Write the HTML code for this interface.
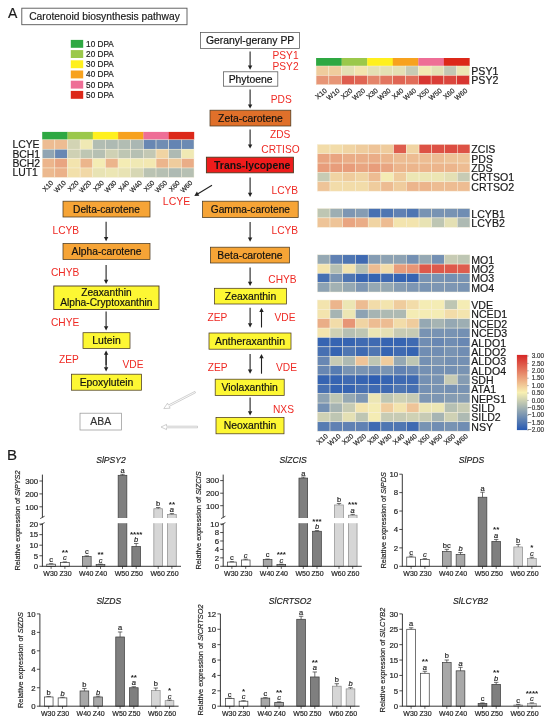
<!DOCTYPE html>
<html lang="en"><head><meta charset="utf-8"><title>Carotenoid biosynthesis pathway</title>
<style>html,body{margin:0;padding:0;background:#fff;}body{width:550px;height:721px;overflow:hidden;}svg{display:block;font-family:'Liberation Sans', Arial, sans-serif;filter:blur(0.32px);}</style>
</head><body>
<svg width="550" height="721" viewBox="0 0 550 721">
<rect width="550" height="721" fill="#ffffff"/>
<text x="8" y="17.6" font-size="14" fill="#1a1a1a" stroke="#1a1a1a" stroke-width="0.18">A</text>
<rect x="21.80" y="8.20" width="165.20" height="16.50" fill="#fff" stroke="#555" stroke-width="0.9"/>
<text x="29.2" y="19.6" font-size="10.27" fill="#1a1a1a" stroke="#1a1a1a" stroke-width="0.18">Carotenoid biosynthesis pathway</text>
<rect x="70.80" y="39.90" width="12.40" height="7.90" fill="#2ea842"/>
<text x="86.1" y="46.7" font-size="8.2" fill="#1a1a1a" stroke="#1a1a1a" stroke-width="0.18">10 DPA</text>
<rect x="70.80" y="50.10" width="12.40" height="7.90" fill="#9bc84b"/>
<text x="86.1" y="56.9" font-size="8.2" fill="#1a1a1a" stroke="#1a1a1a" stroke-width="0.18">20 DPA</text>
<rect x="70.80" y="60.30" width="12.40" height="7.90" fill="#fff01e"/>
<text x="86.1" y="67.1" font-size="8.2" fill="#1a1a1a" stroke="#1a1a1a" stroke-width="0.18">30 DPA</text>
<rect x="70.80" y="70.50" width="12.40" height="7.90" fill="#f7a21e"/>
<text x="86.1" y="77.3" font-size="8.2" fill="#1a1a1a" stroke="#1a1a1a" stroke-width="0.18">40 DPA</text>
<rect x="70.80" y="80.70" width="12.40" height="7.90" fill="#ee6e96"/>
<text x="86.1" y="87.5" font-size="8.2" fill="#1a1a1a" stroke="#1a1a1a" stroke-width="0.18">50 DPA</text>
<rect x="70.80" y="90.90" width="12.40" height="7.90" fill="#dc2819"/>
<text x="86.1" y="97.7" font-size="8.2" fill="#1a1a1a" stroke="#1a1a1a" stroke-width="0.18">50 DPA</text>
<rect x="42.20" y="131.90" width="25.50" height="7.90" fill="#2ea842"/>
<rect x="67.50" y="131.90" width="25.50" height="7.90" fill="#9bc84b"/>
<rect x="92.80" y="131.90" width="25.50" height="7.90" fill="#fff01e"/>
<rect x="118.10" y="131.90" width="25.50" height="7.90" fill="#f7a21e"/>
<rect x="143.40" y="131.90" width="25.50" height="7.90" fill="#ee6e96"/>
<rect x="168.70" y="131.90" width="25.50" height="7.90" fill="#dc2819"/>
<rect x="42.20" y="139.80" width="12.65" height="9.40" fill="#edbc92" stroke="#f6f0dc" stroke-width="0.45"/>
<rect x="54.85" y="139.80" width="12.65" height="9.40" fill="#edbc92" stroke="#f6f0dc" stroke-width="0.45"/>
<rect x="67.50" y="139.80" width="12.65" height="9.40" fill="#d3d4b4" stroke="#f6f0dc" stroke-width="0.45"/>
<rect x="80.15" y="139.80" width="12.65" height="9.40" fill="#f0e9b4" stroke="#f6f0dc" stroke-width="0.45"/>
<rect x="92.80" y="139.80" width="12.65" height="9.40" fill="#b2bdb3" stroke="#f6f0dc" stroke-width="0.45"/>
<rect x="105.45" y="139.80" width="12.65" height="9.40" fill="#aebab3" stroke="#f6f0dc" stroke-width="0.45"/>
<rect x="118.10" y="139.80" width="12.65" height="9.40" fill="#b2bdb3" stroke="#f6f0dc" stroke-width="0.45"/>
<rect x="130.75" y="139.80" width="12.65" height="9.40" fill="#aab7b3" stroke="#f6f0dc" stroke-width="0.45"/>
<rect x="143.40" y="139.80" width="12.65" height="9.40" fill="#6887b3" stroke="#f6f0dc" stroke-width="0.45"/>
<rect x="156.05" y="139.80" width="12.65" height="9.40" fill="#708db3" stroke="#f6f0dc" stroke-width="0.45"/>
<rect x="168.70" y="139.80" width="12.65" height="9.40" fill="#6484b3" stroke="#f6f0dc" stroke-width="0.45"/>
<rect x="181.35" y="139.80" width="12.65" height="9.40" fill="#6c8ab3" stroke="#f6f0dc" stroke-width="0.45"/>
<text x="12.4" y="148.24" font-size="10.4" fill="#1a1a1a" stroke="#1a1a1a" stroke-width="0.18">LCYE</text>
<rect x="42.20" y="149.20" width="12.65" height="9.40" fill="#91a5b3" stroke="#f6f0dc" stroke-width="0.45"/>
<rect x="54.85" y="149.20" width="12.65" height="9.40" fill="#6887b3" stroke="#f6f0dc" stroke-width="0.45"/>
<rect x="67.50" y="149.20" width="12.65" height="9.40" fill="#cfd1b4" stroke="#f6f0dc" stroke-width="0.45"/>
<rect x="80.15" y="149.20" width="12.65" height="9.40" fill="#bec6b3" stroke="#f6f0dc" stroke-width="0.45"/>
<rect x="92.80" y="149.20" width="12.65" height="9.40" fill="#b6c0b3" stroke="#f6f0dc" stroke-width="0.45"/>
<rect x="105.45" y="149.20" width="12.65" height="9.40" fill="#cfd1b4" stroke="#f6f0dc" stroke-width="0.45"/>
<rect x="118.10" y="149.20" width="12.65" height="9.40" fill="#bec6b3" stroke="#f6f0dc" stroke-width="0.45"/>
<rect x="130.75" y="149.20" width="12.65" height="9.40" fill="#b6c0b3" stroke="#f6f0dc" stroke-width="0.45"/>
<rect x="143.40" y="149.20" width="12.65" height="9.40" fill="#c3c8b4" stroke="#f6f0dc" stroke-width="0.45"/>
<rect x="156.05" y="149.20" width="12.65" height="9.40" fill="#f0d4a3" stroke="#f6f0dc" stroke-width="0.45"/>
<rect x="168.70" y="149.20" width="12.65" height="9.40" fill="#aebab3" stroke="#f6f0dc" stroke-width="0.45"/>
<rect x="181.35" y="149.20" width="12.65" height="9.40" fill="#f0e9b4" stroke="#f6f0dc" stroke-width="0.45"/>
<text x="12.4" y="157.64" font-size="10.4" fill="#1a1a1a" stroke="#1a1a1a" stroke-width="0.18">BCH1</text>
<rect x="42.20" y="158.60" width="12.65" height="9.40" fill="#ecb58c" stroke="#f6f0dc" stroke-width="0.45"/>
<rect x="54.85" y="158.60" width="12.65" height="9.40" fill="#e9a581" stroke="#f6f0dc" stroke-width="0.45"/>
<rect x="67.50" y="158.60" width="12.65" height="9.40" fill="#f3e4ae" stroke="#f6f0dc" stroke-width="0.45"/>
<rect x="80.15" y="158.60" width="12.65" height="9.40" fill="#ecb58c" stroke="#f6f0dc" stroke-width="0.45"/>
<rect x="92.80" y="158.60" width="12.65" height="9.40" fill="#f4ecb4" stroke="#f6f0dc" stroke-width="0.45"/>
<rect x="105.45" y="158.60" width="12.65" height="9.40" fill="#ecb58c" stroke="#f6f0dc" stroke-width="0.45"/>
<rect x="118.10" y="158.60" width="12.65" height="9.40" fill="#f4ecb4" stroke="#f6f0dc" stroke-width="0.45"/>
<rect x="130.75" y="158.60" width="12.65" height="9.40" fill="#f0e9b4" stroke="#f6f0dc" stroke-width="0.45"/>
<rect x="143.40" y="158.60" width="12.65" height="9.40" fill="#f3e8b1" stroke="#f6f0dc" stroke-width="0.45"/>
<rect x="156.05" y="158.60" width="12.65" height="9.40" fill="#ecb58c" stroke="#f6f0dc" stroke-width="0.45"/>
<rect x="168.70" y="158.60" width="12.65" height="9.40" fill="#efcc9d" stroke="#f6f0dc" stroke-width="0.45"/>
<rect x="181.35" y="158.60" width="12.65" height="9.40" fill="#eaad87" stroke="#f6f0dc" stroke-width="0.45"/>
<text x="12.4" y="167.04" font-size="10.4" fill="#1a1a1a" stroke="#1a1a1a" stroke-width="0.18">BCH2</text>
<rect x="42.20" y="168.00" width="12.65" height="9.40" fill="#ecb98f" stroke="#f6f0dc" stroke-width="0.45"/>
<rect x="54.85" y="168.00" width="12.65" height="9.40" fill="#ebb189" stroke="#f6f0dc" stroke-width="0.45"/>
<rect x="67.50" y="168.00" width="12.65" height="9.40" fill="#f2e0ab" stroke="#f6f0dc" stroke-width="0.45"/>
<rect x="80.15" y="168.00" width="12.65" height="9.40" fill="#f1d8a6" stroke="#f6f0dc" stroke-width="0.45"/>
<rect x="92.80" y="168.00" width="12.65" height="9.40" fill="#e8e3b4" stroke="#f6f0dc" stroke-width="0.45"/>
<rect x="105.45" y="168.00" width="12.65" height="9.40" fill="#ece6b4" stroke="#f6f0dc" stroke-width="0.45"/>
<rect x="118.10" y="168.00" width="12.65" height="9.40" fill="#e8e3b4" stroke="#f6f0dc" stroke-width="0.45"/>
<rect x="130.75" y="168.00" width="12.65" height="9.40" fill="#d7d7b4" stroke="#f6f0dc" stroke-width="0.45"/>
<rect x="143.40" y="168.00" width="12.65" height="9.40" fill="#bac3b3" stroke="#f6f0dc" stroke-width="0.45"/>
<rect x="156.05" y="168.00" width="12.65" height="9.40" fill="#b6c0b3" stroke="#f6f0dc" stroke-width="0.45"/>
<rect x="168.70" y="168.00" width="12.65" height="9.40" fill="#aebab3" stroke="#f6f0dc" stroke-width="0.45"/>
<rect x="181.35" y="168.00" width="12.65" height="9.40" fill="#b6c0b3" stroke="#f6f0dc" stroke-width="0.45"/>
<text x="12.4" y="176.44" font-size="10.4" fill="#1a1a1a" stroke="#1a1a1a" stroke-width="0.18">LUT1</text>
<text x="53.73" y="183.2" font-size="6.8" fill="#2a2a2a" text-anchor="end" transform="rotate(-46 53.73 183.2)" stroke="#2a2a2a" stroke-width="0.18">X10</text>
<text x="66.38" y="183.2" font-size="6.8" fill="#2a2a2a" text-anchor="end" transform="rotate(-46 66.38 183.2)" stroke="#2a2a2a" stroke-width="0.18">W10</text>
<text x="79.03" y="183.2" font-size="6.8" fill="#2a2a2a" text-anchor="end" transform="rotate(-46 79.03 183.2)" stroke="#2a2a2a" stroke-width="0.18">X20</text>
<text x="91.67" y="183.2" font-size="6.8" fill="#2a2a2a" text-anchor="end" transform="rotate(-46 91.67 183.2)" stroke="#2a2a2a" stroke-width="0.18">W20</text>
<text x="104.33" y="183.2" font-size="6.8" fill="#2a2a2a" text-anchor="end" transform="rotate(-46 104.33 183.2)" stroke="#2a2a2a" stroke-width="0.18">X30</text>
<text x="116.98" y="183.2" font-size="6.8" fill="#2a2a2a" text-anchor="end" transform="rotate(-46 116.98 183.2)" stroke="#2a2a2a" stroke-width="0.18">W30</text>
<text x="129.62" y="183.2" font-size="6.8" fill="#2a2a2a" text-anchor="end" transform="rotate(-46 129.62 183.2)" stroke="#2a2a2a" stroke-width="0.18">X40</text>
<text x="142.27" y="183.2" font-size="6.8" fill="#2a2a2a" text-anchor="end" transform="rotate(-46 142.27 183.2)" stroke="#2a2a2a" stroke-width="0.18">W40</text>
<text x="154.93" y="183.2" font-size="6.8" fill="#2a2a2a" text-anchor="end" transform="rotate(-46 154.93 183.2)" stroke="#2a2a2a" stroke-width="0.18">X50</text>
<text x="167.57" y="183.2" font-size="6.8" fill="#2a2a2a" text-anchor="end" transform="rotate(-46 167.57 183.2)" stroke="#2a2a2a" stroke-width="0.18">W50</text>
<text x="180.23" y="183.2" font-size="6.8" fill="#2a2a2a" text-anchor="end" transform="rotate(-46 180.23 183.2)" stroke="#2a2a2a" stroke-width="0.18">X60</text>
<text x="192.88" y="183.2" font-size="6.8" fill="#2a2a2a" text-anchor="end" transform="rotate(-46 192.88 183.2)" stroke="#2a2a2a" stroke-width="0.18">W60</text>
<rect x="316.10" y="58.00" width="25.76" height="8.00" fill="#2ea842"/>
<rect x="341.66" y="58.00" width="25.76" height="8.00" fill="#9bc84b"/>
<rect x="367.22" y="58.00" width="25.76" height="8.00" fill="#fff01e"/>
<rect x="392.78" y="58.00" width="25.76" height="8.00" fill="#f7a21e"/>
<rect x="418.34" y="58.00" width="25.76" height="8.00" fill="#ee6e96"/>
<rect x="443.90" y="58.00" width="25.76" height="8.00" fill="#dc2819"/>
<rect x="316.10" y="66.00" width="12.78" height="9.35" fill="#efcc9d" stroke="#f6f0dc" stroke-width="0.45"/>
<rect x="328.88" y="66.00" width="12.78" height="9.35" fill="#efcc9d" stroke="#f6f0dc" stroke-width="0.45"/>
<rect x="341.66" y="66.00" width="12.78" height="9.35" fill="#e4e0b4" stroke="#f6f0dc" stroke-width="0.45"/>
<rect x="354.44" y="66.00" width="12.78" height="9.35" fill="#f3e4ae" stroke="#f6f0dc" stroke-width="0.45"/>
<rect x="367.22" y="66.00" width="12.78" height="9.35" fill="#e4e0b4" stroke="#f6f0dc" stroke-width="0.45"/>
<rect x="380.00" y="66.00" width="12.78" height="9.35" fill="#e4e0b4" stroke="#f6f0dc" stroke-width="0.45"/>
<rect x="392.78" y="66.00" width="12.78" height="9.35" fill="#e4e0b4" stroke="#f6f0dc" stroke-width="0.45"/>
<rect x="405.56" y="66.00" width="12.78" height="9.35" fill="#c7cbb4" stroke="#f6f0dc" stroke-width="0.45"/>
<rect x="418.34" y="66.00" width="12.78" height="9.35" fill="#f3e8b1" stroke="#f6f0dc" stroke-width="0.45"/>
<rect x="431.12" y="66.00" width="12.78" height="9.35" fill="#e4e0b4" stroke="#f6f0dc" stroke-width="0.45"/>
<rect x="443.90" y="66.00" width="12.78" height="9.35" fill="#c3c8b4" stroke="#f6f0dc" stroke-width="0.45"/>
<rect x="456.68" y="66.00" width="12.78" height="9.35" fill="#ece6b4" stroke="#f6f0dc" stroke-width="0.45"/>
<text x="471.3" y="75.02" font-size="10.6" fill="#1a1a1a" stroke="#1a1a1a" stroke-width="0.18">PSY1</text>
<rect x="316.10" y="75.35" width="12.78" height="9.35" fill="#e79576" stroke="#f6f0dc" stroke-width="0.45"/>
<rect x="328.88" y="75.35" width="12.78" height="9.35" fill="#e79576" stroke="#f6f0dc" stroke-width="0.45"/>
<rect x="341.66" y="75.35" width="12.78" height="9.35" fill="#de5d4e" stroke="#f6f0dc" stroke-width="0.45"/>
<rect x="354.44" y="75.35" width="12.78" height="9.35" fill="#e06553" stroke="#f6f0dc" stroke-width="0.45"/>
<rect x="367.22" y="75.35" width="12.78" height="9.35" fill="#e4856a" stroke="#f6f0dc" stroke-width="0.45"/>
<rect x="380.00" y="75.35" width="12.78" height="9.35" fill="#e2755f" stroke="#f6f0dc" stroke-width="0.45"/>
<rect x="392.78" y="75.35" width="12.78" height="9.35" fill="#e06553" stroke="#f6f0dc" stroke-width="0.45"/>
<rect x="405.56" y="75.35" width="12.78" height="9.35" fill="#e16d59" stroke="#f6f0dc" stroke-width="0.45"/>
<rect x="418.34" y="75.35" width="12.78" height="9.35" fill="#d83631" stroke="#f6f0dc" stroke-width="0.45"/>
<rect x="431.12" y="75.35" width="12.78" height="9.35" fill="#da3e37" stroke="#f6f0dc" stroke-width="0.45"/>
<rect x="443.90" y="75.35" width="12.78" height="9.35" fill="#db463d" stroke="#f6f0dc" stroke-width="0.45"/>
<rect x="456.68" y="75.35" width="12.78" height="9.35" fill="#d83631" stroke="#f6f0dc" stroke-width="0.45"/>
<text x="471.3" y="84.37" font-size="10.6" fill="#1a1a1a" stroke="#1a1a1a" stroke-width="0.18">PSY2</text>
<text x="327.39" y="91.5" font-size="7.0" fill="#2a2a2a" text-anchor="end" transform="rotate(-40 327.39 91.5)" stroke="#2a2a2a" stroke-width="0.18">X10</text>
<text x="340.17" y="91.5" font-size="7.0" fill="#2a2a2a" text-anchor="end" transform="rotate(-40 340.17 91.5)" stroke="#2a2a2a" stroke-width="0.18">W10</text>
<text x="352.95" y="91.5" font-size="7.0" fill="#2a2a2a" text-anchor="end" transform="rotate(-40 352.95 91.5)" stroke="#2a2a2a" stroke-width="0.18">X20</text>
<text x="365.73" y="91.5" font-size="7.0" fill="#2a2a2a" text-anchor="end" transform="rotate(-40 365.73 91.5)" stroke="#2a2a2a" stroke-width="0.18">W20</text>
<text x="378.51" y="91.5" font-size="7.0" fill="#2a2a2a" text-anchor="end" transform="rotate(-40 378.51 91.5)" stroke="#2a2a2a" stroke-width="0.18">X30</text>
<text x="391.29" y="91.5" font-size="7.0" fill="#2a2a2a" text-anchor="end" transform="rotate(-40 391.29 91.5)" stroke="#2a2a2a" stroke-width="0.18">W30</text>
<text x="404.07" y="91.5" font-size="7.0" fill="#2a2a2a" text-anchor="end" transform="rotate(-40 404.07 91.5)" stroke="#2a2a2a" stroke-width="0.18">X40</text>
<text x="416.85" y="91.5" font-size="7.0" fill="#2a2a2a" text-anchor="end" transform="rotate(-40 416.85 91.5)" stroke="#2a2a2a" stroke-width="0.18">W40</text>
<text x="429.63" y="91.5" font-size="7.0" fill="#2a2a2a" text-anchor="end" transform="rotate(-40 429.63 91.5)" stroke="#2a2a2a" stroke-width="0.18">X50</text>
<text x="442.41" y="91.5" font-size="7.0" fill="#2a2a2a" text-anchor="end" transform="rotate(-40 442.41 91.5)" stroke="#2a2a2a" stroke-width="0.18">W50</text>
<text x="455.19" y="91.5" font-size="7.0" fill="#2a2a2a" text-anchor="end" transform="rotate(-40 455.19 91.5)" stroke="#2a2a2a" stroke-width="0.18">X60</text>
<text x="467.97" y="91.5" font-size="7.0" fill="#2a2a2a" text-anchor="end" transform="rotate(-40 467.97 91.5)" stroke="#2a2a2a" stroke-width="0.18">W60</text>
<rect x="317.30" y="144.40" width="12.72" height="9.35" fill="#f2dca9" stroke="#f6f0dc" stroke-width="0.45"/>
<rect x="330.02" y="144.40" width="12.72" height="9.35" fill="#f2dca9" stroke="#f6f0dc" stroke-width="0.45"/>
<rect x="342.74" y="144.40" width="12.72" height="9.35" fill="#f0d4a3" stroke="#f6f0dc" stroke-width="0.45"/>
<rect x="355.46" y="144.40" width="12.72" height="9.35" fill="#efcc9d" stroke="#f6f0dc" stroke-width="0.45"/>
<rect x="368.18" y="144.40" width="12.72" height="9.35" fill="#eec498" stroke="#f6f0dc" stroke-width="0.45"/>
<rect x="380.90" y="144.40" width="12.72" height="9.35" fill="#efcc9d" stroke="#f6f0dc" stroke-width="0.45"/>
<rect x="393.62" y="144.40" width="12.72" height="9.35" fill="#de5d4e" stroke="#f6f0dc" stroke-width="0.45"/>
<rect x="406.34" y="144.40" width="12.72" height="9.35" fill="#f0d4a3" stroke="#f6f0dc" stroke-width="0.45"/>
<rect x="419.06" y="144.40" width="12.72" height="9.35" fill="#dd5245" stroke="#f6f0dc" stroke-width="0.45"/>
<rect x="431.78" y="144.40" width="12.72" height="9.35" fill="#dd5245" stroke="#f6f0dc" stroke-width="0.45"/>
<rect x="444.50" y="144.40" width="12.72" height="9.35" fill="#dc4e42" stroke="#f6f0dc" stroke-width="0.45"/>
<rect x="457.22" y="144.40" width="12.72" height="9.35" fill="#dd5245" stroke="#f6f0dc" stroke-width="0.45"/>
<text x="471.3" y="153.42" font-size="10.6" fill="#1a1a1a" stroke="#1a1a1a" stroke-width="0.18">ZCIS</text>
<rect x="317.30" y="153.75" width="12.72" height="9.35" fill="#e9a581" stroke="#f6f0dc" stroke-width="0.45"/>
<rect x="330.02" y="153.75" width="12.72" height="9.35" fill="#e9a581" stroke="#f6f0dc" stroke-width="0.45"/>
<rect x="342.74" y="153.75" width="12.72" height="9.35" fill="#eaad87" stroke="#f6f0dc" stroke-width="0.45"/>
<rect x="355.46" y="153.75" width="12.72" height="9.35" fill="#eaad87" stroke="#f6f0dc" stroke-width="0.45"/>
<rect x="368.18" y="153.75" width="12.72" height="9.35" fill="#eaad87" stroke="#f6f0dc" stroke-width="0.45"/>
<rect x="380.90" y="153.75" width="12.72" height="9.35" fill="#ecb58c" stroke="#f6f0dc" stroke-width="0.45"/>
<rect x="393.62" y="153.75" width="12.72" height="9.35" fill="#edbc92" stroke="#f6f0dc" stroke-width="0.45"/>
<rect x="406.34" y="153.75" width="12.72" height="9.35" fill="#edbc92" stroke="#f6f0dc" stroke-width="0.45"/>
<rect x="419.06" y="153.75" width="12.72" height="9.35" fill="#edbc92" stroke="#f6f0dc" stroke-width="0.45"/>
<rect x="431.78" y="153.75" width="12.72" height="9.35" fill="#edbc92" stroke="#f6f0dc" stroke-width="0.45"/>
<rect x="444.50" y="153.75" width="12.72" height="9.35" fill="#eec498" stroke="#f6f0dc" stroke-width="0.45"/>
<rect x="457.22" y="153.75" width="12.72" height="9.35" fill="#eec498" stroke="#f6f0dc" stroke-width="0.45"/>
<text x="471.3" y="162.77" font-size="10.6" fill="#1a1a1a" stroke="#1a1a1a" stroke-width="0.18">PDS</text>
<rect x="317.30" y="163.10" width="12.72" height="9.35" fill="#e89d7b" stroke="#f6f0dc" stroke-width="0.45"/>
<rect x="330.02" y="163.10" width="12.72" height="9.35" fill="#e89d7b" stroke="#f6f0dc" stroke-width="0.45"/>
<rect x="342.74" y="163.10" width="12.72" height="9.35" fill="#e89d7b" stroke="#f6f0dc" stroke-width="0.45"/>
<rect x="355.46" y="163.10" width="12.72" height="9.35" fill="#e9a581" stroke="#f6f0dc" stroke-width="0.45"/>
<rect x="368.18" y="163.10" width="12.72" height="9.35" fill="#e89d7b" stroke="#f6f0dc" stroke-width="0.45"/>
<rect x="380.90" y="163.10" width="12.72" height="9.35" fill="#e9a581" stroke="#f6f0dc" stroke-width="0.45"/>
<rect x="393.62" y="163.10" width="12.72" height="9.35" fill="#ecb58c" stroke="#f6f0dc" stroke-width="0.45"/>
<rect x="406.34" y="163.10" width="12.72" height="9.35" fill="#ecb58c" stroke="#f6f0dc" stroke-width="0.45"/>
<rect x="419.06" y="163.10" width="12.72" height="9.35" fill="#ecb58c" stroke="#f6f0dc" stroke-width="0.45"/>
<rect x="431.78" y="163.10" width="12.72" height="9.35" fill="#ecb58c" stroke="#f6f0dc" stroke-width="0.45"/>
<rect x="444.50" y="163.10" width="12.72" height="9.35" fill="#ecb58c" stroke="#f6f0dc" stroke-width="0.45"/>
<rect x="457.22" y="163.10" width="12.72" height="9.35" fill="#edbc92" stroke="#f6f0dc" stroke-width="0.45"/>
<text x="471.3" y="172.12" font-size="10.6" fill="#1a1a1a" stroke="#1a1a1a" stroke-width="0.18">ZDS</text>
<rect x="317.30" y="172.45" width="12.72" height="9.35" fill="#c7cbb4" stroke="#f6f0dc" stroke-width="0.45"/>
<rect x="330.02" y="172.45" width="12.72" height="9.35" fill="#f0d4a3" stroke="#f6f0dc" stroke-width="0.45"/>
<rect x="342.74" y="172.45" width="12.72" height="9.35" fill="#efcc9d" stroke="#f6f0dc" stroke-width="0.45"/>
<rect x="355.46" y="172.45" width="12.72" height="9.35" fill="#f0d4a3" stroke="#f6f0dc" stroke-width="0.45"/>
<rect x="368.18" y="172.45" width="12.72" height="9.35" fill="#edbc92" stroke="#f6f0dc" stroke-width="0.45"/>
<rect x="380.90" y="172.45" width="12.72" height="9.35" fill="#f4ecb4" stroke="#f6f0dc" stroke-width="0.45"/>
<rect x="393.62" y="172.45" width="12.72" height="9.35" fill="#efcc9d" stroke="#f6f0dc" stroke-width="0.45"/>
<rect x="406.34" y="172.45" width="12.72" height="9.35" fill="#ece6b4" stroke="#f6f0dc" stroke-width="0.45"/>
<rect x="419.06" y="172.45" width="12.72" height="9.35" fill="#ece6b4" stroke="#f6f0dc" stroke-width="0.45"/>
<rect x="431.78" y="172.45" width="12.72" height="9.35" fill="#ece6b4" stroke="#f6f0dc" stroke-width="0.45"/>
<rect x="444.50" y="172.45" width="12.72" height="9.35" fill="#e4e0b4" stroke="#f6f0dc" stroke-width="0.45"/>
<rect x="457.22" y="172.45" width="12.72" height="9.35" fill="#c7cbb4" stroke="#f6f0dc" stroke-width="0.45"/>
<text x="471.3" y="181.47" font-size="10.6" fill="#1a1a1a" stroke="#1a1a1a" stroke-width="0.18">CRTSO1</text>
<rect x="317.30" y="181.80" width="12.72" height="9.35" fill="#eec498" stroke="#f6f0dc" stroke-width="0.45"/>
<rect x="330.02" y="181.80" width="12.72" height="9.35" fill="#f2dca9" stroke="#f6f0dc" stroke-width="0.45"/>
<rect x="342.74" y="181.80" width="12.72" height="9.35" fill="#f2dca9" stroke="#f6f0dc" stroke-width="0.45"/>
<rect x="355.46" y="181.80" width="12.72" height="9.35" fill="#f2dca9" stroke="#f6f0dc" stroke-width="0.45"/>
<rect x="368.18" y="181.80" width="12.72" height="9.35" fill="#efcc9d" stroke="#f6f0dc" stroke-width="0.45"/>
<rect x="380.90" y="181.80" width="12.72" height="9.35" fill="#edbc92" stroke="#f6f0dc" stroke-width="0.45"/>
<rect x="393.62" y="181.80" width="12.72" height="9.35" fill="#efcc9d" stroke="#f6f0dc" stroke-width="0.45"/>
<rect x="406.34" y="181.80" width="12.72" height="9.35" fill="#ecb58c" stroke="#f6f0dc" stroke-width="0.45"/>
<rect x="419.06" y="181.80" width="12.72" height="9.35" fill="#ecb58c" stroke="#f6f0dc" stroke-width="0.45"/>
<rect x="431.78" y="181.80" width="12.72" height="9.35" fill="#edbc92" stroke="#f6f0dc" stroke-width="0.45"/>
<rect x="444.50" y="181.80" width="12.72" height="9.35" fill="#edbc92" stroke="#f6f0dc" stroke-width="0.45"/>
<rect x="457.22" y="181.80" width="12.72" height="9.35" fill="#edbc92" stroke="#f6f0dc" stroke-width="0.45"/>
<text x="471.3" y="190.82" font-size="10.6" fill="#1a1a1a" stroke="#1a1a1a" stroke-width="0.18">CRTSO2</text>
<rect x="317.30" y="208.50" width="12.72" height="9.40" fill="#bec6b3" stroke="#f6f0dc" stroke-width="0.45"/>
<rect x="330.02" y="208.50" width="12.72" height="9.40" fill="#9daeb3" stroke="#f6f0dc" stroke-width="0.45"/>
<rect x="342.74" y="208.50" width="12.72" height="9.40" fill="#7d96b3" stroke="#f6f0dc" stroke-width="0.45"/>
<rect x="355.46" y="208.50" width="12.72" height="9.40" fill="#859cb3" stroke="#f6f0dc" stroke-width="0.45"/>
<rect x="368.18" y="208.50" width="12.72" height="9.40" fill="#4770b2" stroke="#f6f0dc" stroke-width="0.45"/>
<rect x="380.90" y="208.50" width="12.72" height="9.40" fill="#4f76b2" stroke="#f6f0dc" stroke-width="0.45"/>
<rect x="393.62" y="208.50" width="12.72" height="9.40" fill="#6081b3" stroke="#f6f0dc" stroke-width="0.45"/>
<rect x="406.34" y="208.50" width="12.72" height="9.40" fill="#4f76b2" stroke="#f6f0dc" stroke-width="0.45"/>
<rect x="419.06" y="208.50" width="12.72" height="9.40" fill="#7893b3" stroke="#f6f0dc" stroke-width="0.45"/>
<rect x="431.78" y="208.50" width="12.72" height="9.40" fill="#7893b3" stroke="#f6f0dc" stroke-width="0.45"/>
<rect x="444.50" y="208.50" width="12.72" height="9.40" fill="#7893b3" stroke="#f6f0dc" stroke-width="0.45"/>
<rect x="457.22" y="208.50" width="12.72" height="9.40" fill="#708db3" stroke="#f6f0dc" stroke-width="0.45"/>
<text x="471.3" y="217.54" font-size="10.6" fill="#1a1a1a" stroke="#1a1a1a" stroke-width="0.18">LCYB1</text>
<rect x="317.30" y="217.90" width="12.72" height="9.40" fill="#eec498" stroke="#f6f0dc" stroke-width="0.45"/>
<rect x="330.02" y="217.90" width="12.72" height="9.40" fill="#eec498" stroke="#f6f0dc" stroke-width="0.45"/>
<rect x="342.74" y="217.90" width="12.72" height="9.40" fill="#e9a581" stroke="#f6f0dc" stroke-width="0.45"/>
<rect x="355.46" y="217.90" width="12.72" height="9.40" fill="#eaad87" stroke="#f6f0dc" stroke-width="0.45"/>
<rect x="368.18" y="217.90" width="12.72" height="9.40" fill="#f0d4a3" stroke="#f6f0dc" stroke-width="0.45"/>
<rect x="380.90" y="217.90" width="12.72" height="9.40" fill="#edbc92" stroke="#f6f0dc" stroke-width="0.45"/>
<rect x="393.62" y="217.90" width="12.72" height="9.40" fill="#f3e4ae" stroke="#f6f0dc" stroke-width="0.45"/>
<rect x="406.34" y="217.90" width="12.72" height="9.40" fill="#f3e4ae" stroke="#f6f0dc" stroke-width="0.45"/>
<rect x="419.06" y="217.90" width="12.72" height="9.40" fill="#e8e3b4" stroke="#f6f0dc" stroke-width="0.45"/>
<rect x="431.78" y="217.90" width="12.72" height="9.40" fill="#bec6b3" stroke="#f6f0dc" stroke-width="0.45"/>
<rect x="444.50" y="217.90" width="12.72" height="9.40" fill="#e4e0b4" stroke="#f6f0dc" stroke-width="0.45"/>
<rect x="457.22" y="217.90" width="12.72" height="9.40" fill="#aebab3" stroke="#f6f0dc" stroke-width="0.45"/>
<text x="471.3" y="226.94" font-size="10.6" fill="#1a1a1a" stroke="#1a1a1a" stroke-width="0.18">LCYB2</text>
<rect x="317.30" y="254.80" width="12.72" height="9.30" fill="#95a8b3" stroke="#f6f0dc" stroke-width="0.45"/>
<rect x="330.02" y="254.80" width="12.72" height="9.30" fill="#6081b3" stroke="#f6f0dc" stroke-width="0.45"/>
<rect x="342.74" y="254.80" width="12.72" height="9.30" fill="#4f76b2" stroke="#f6f0dc" stroke-width="0.45"/>
<rect x="355.46" y="254.80" width="12.72" height="9.30" fill="#3f6ab2" stroke="#f6f0dc" stroke-width="0.45"/>
<rect x="368.18" y="254.80" width="12.72" height="9.30" fill="#859cb3" stroke="#f6f0dc" stroke-width="0.45"/>
<rect x="380.90" y="254.80" width="12.72" height="9.30" fill="#8da2b3" stroke="#f6f0dc" stroke-width="0.45"/>
<rect x="393.62" y="254.80" width="12.72" height="9.30" fill="#8da2b3" stroke="#f6f0dc" stroke-width="0.45"/>
<rect x="406.34" y="254.80" width="12.72" height="9.30" fill="#7490b3" stroke="#f6f0dc" stroke-width="0.45"/>
<rect x="419.06" y="254.80" width="12.72" height="9.30" fill="#95a8b3" stroke="#f6f0dc" stroke-width="0.45"/>
<rect x="431.78" y="254.80" width="12.72" height="9.30" fill="#7490b3" stroke="#f6f0dc" stroke-width="0.45"/>
<rect x="444.50" y="254.80" width="12.72" height="9.30" fill="#c7cbb4" stroke="#f6f0dc" stroke-width="0.45"/>
<rect x="457.22" y="254.80" width="12.72" height="9.30" fill="#bec6b3" stroke="#f6f0dc" stroke-width="0.45"/>
<text x="471.3" y="263.79" font-size="10.6" fill="#1a1a1a" stroke="#1a1a1a" stroke-width="0.18">MO1</text>
<rect x="317.30" y="264.10" width="12.72" height="9.30" fill="#f3e4ae" stroke="#f6f0dc" stroke-width="0.45"/>
<rect x="330.02" y="264.10" width="12.72" height="9.30" fill="#b6c0b3" stroke="#f6f0dc" stroke-width="0.45"/>
<rect x="342.74" y="264.10" width="12.72" height="9.30" fill="#f3e4ae" stroke="#f6f0dc" stroke-width="0.45"/>
<rect x="355.46" y="264.10" width="12.72" height="9.30" fill="#b6c0b3" stroke="#f6f0dc" stroke-width="0.45"/>
<rect x="368.18" y="264.10" width="12.72" height="9.30" fill="#edbc92" stroke="#f6f0dc" stroke-width="0.45"/>
<rect x="380.90" y="264.10" width="12.72" height="9.30" fill="#f2dca9" stroke="#f6f0dc" stroke-width="0.45"/>
<rect x="393.62" y="264.10" width="12.72" height="9.30" fill="#e89d7b" stroke="#f6f0dc" stroke-width="0.45"/>
<rect x="406.34" y="264.10" width="12.72" height="9.30" fill="#e79576" stroke="#f6f0dc" stroke-width="0.45"/>
<rect x="419.06" y="264.10" width="12.72" height="9.30" fill="#de594b" stroke="#f6f0dc" stroke-width="0.45"/>
<rect x="431.78" y="264.10" width="12.72" height="9.30" fill="#de594b" stroke="#f6f0dc" stroke-width="0.45"/>
<rect x="444.50" y="264.10" width="12.72" height="9.30" fill="#de594b" stroke="#f6f0dc" stroke-width="0.45"/>
<rect x="457.22" y="264.10" width="12.72" height="9.30" fill="#de5d4e" stroke="#f6f0dc" stroke-width="0.45"/>
<text x="471.3" y="273.09" font-size="10.6" fill="#1a1a1a" stroke="#1a1a1a" stroke-width="0.18">MO2</text>
<rect x="317.30" y="273.40" width="12.72" height="9.30" fill="#4770b2" stroke="#f6f0dc" stroke-width="0.45"/>
<rect x="330.02" y="273.40" width="12.72" height="9.30" fill="#7893b3" stroke="#f6f0dc" stroke-width="0.45"/>
<rect x="342.74" y="273.40" width="12.72" height="9.30" fill="#4f76b2" stroke="#f6f0dc" stroke-width="0.45"/>
<rect x="355.46" y="273.40" width="12.72" height="9.30" fill="#3664b2" stroke="#f6f0dc" stroke-width="0.45"/>
<rect x="368.18" y="273.40" width="12.72" height="9.30" fill="#3664b2" stroke="#f6f0dc" stroke-width="0.45"/>
<rect x="380.90" y="273.40" width="12.72" height="9.30" fill="#3f6ab2" stroke="#f6f0dc" stroke-width="0.45"/>
<rect x="393.62" y="273.40" width="12.72" height="9.30" fill="#3664b2" stroke="#f6f0dc" stroke-width="0.45"/>
<rect x="406.34" y="273.40" width="12.72" height="9.30" fill="#3664b2" stroke="#f6f0dc" stroke-width="0.45"/>
<rect x="419.06" y="273.40" width="12.72" height="9.30" fill="#7893b3" stroke="#f6f0dc" stroke-width="0.45"/>
<rect x="431.78" y="273.40" width="12.72" height="9.30" fill="#7893b3" stroke="#f6f0dc" stroke-width="0.45"/>
<rect x="444.50" y="273.40" width="12.72" height="9.30" fill="#7490b3" stroke="#f6f0dc" stroke-width="0.45"/>
<rect x="457.22" y="273.40" width="12.72" height="9.30" fill="#7893b3" stroke="#f6f0dc" stroke-width="0.45"/>
<text x="471.3" y="282.39" font-size="10.6" fill="#1a1a1a" stroke="#1a1a1a" stroke-width="0.18">MO3</text>
<rect x="317.30" y="282.70" width="12.72" height="9.30" fill="#8da2b3" stroke="#f6f0dc" stroke-width="0.45"/>
<rect x="330.02" y="282.70" width="12.72" height="9.30" fill="#a2b1b3" stroke="#f6f0dc" stroke-width="0.45"/>
<rect x="342.74" y="282.70" width="12.72" height="9.30" fill="#95a8b3" stroke="#f6f0dc" stroke-width="0.45"/>
<rect x="355.46" y="282.70" width="12.72" height="9.30" fill="#7d96b3" stroke="#f6f0dc" stroke-width="0.45"/>
<rect x="368.18" y="282.70" width="12.72" height="9.30" fill="#95a8b3" stroke="#f6f0dc" stroke-width="0.45"/>
<rect x="380.90" y="282.70" width="12.72" height="9.30" fill="#95a8b3" stroke="#f6f0dc" stroke-width="0.45"/>
<rect x="393.62" y="282.70" width="12.72" height="9.30" fill="#859cb3" stroke="#f6f0dc" stroke-width="0.45"/>
<rect x="406.34" y="282.70" width="12.72" height="9.30" fill="#7d96b3" stroke="#f6f0dc" stroke-width="0.45"/>
<rect x="419.06" y="282.70" width="12.72" height="9.30" fill="#7893b3" stroke="#f6f0dc" stroke-width="0.45"/>
<rect x="431.78" y="282.70" width="12.72" height="9.30" fill="#7d96b3" stroke="#f6f0dc" stroke-width="0.45"/>
<rect x="444.50" y="282.70" width="12.72" height="9.30" fill="#7d96b3" stroke="#f6f0dc" stroke-width="0.45"/>
<rect x="457.22" y="282.70" width="12.72" height="9.30" fill="#7893b3" stroke="#f6f0dc" stroke-width="0.45"/>
<text x="471.3" y="291.69" font-size="10.6" fill="#1a1a1a" stroke="#1a1a1a" stroke-width="0.18">MO4</text>
<rect x="317.30" y="300.00" width="12.72" height="9.37" fill="#f3e4ae" stroke="#f6f0dc" stroke-width="0.45"/>
<rect x="330.02" y="300.00" width="12.72" height="9.37" fill="#ecb58c" stroke="#f6f0dc" stroke-width="0.45"/>
<rect x="342.74" y="300.00" width="12.72" height="9.37" fill="#ece6b4" stroke="#f6f0dc" stroke-width="0.45"/>
<rect x="355.46" y="300.00" width="12.72" height="9.37" fill="#edbc92" stroke="#f6f0dc" stroke-width="0.45"/>
<rect x="368.18" y="300.00" width="12.72" height="9.37" fill="#f2dca9" stroke="#f6f0dc" stroke-width="0.45"/>
<rect x="380.90" y="300.00" width="12.72" height="9.37" fill="#f3e4ae" stroke="#f6f0dc" stroke-width="0.45"/>
<rect x="393.62" y="300.00" width="12.72" height="9.37" fill="#efcc9d" stroke="#f6f0dc" stroke-width="0.45"/>
<rect x="406.34" y="300.00" width="12.72" height="9.37" fill="#f2dca9" stroke="#f6f0dc" stroke-width="0.45"/>
<rect x="419.06" y="300.00" width="12.72" height="9.37" fill="#f4ecb4" stroke="#f6f0dc" stroke-width="0.45"/>
<rect x="431.78" y="300.00" width="12.72" height="9.37" fill="#f4ecb4" stroke="#f6f0dc" stroke-width="0.45"/>
<rect x="444.50" y="300.00" width="12.72" height="9.37" fill="#bec6b3" stroke="#f6f0dc" stroke-width="0.45"/>
<rect x="457.22" y="300.00" width="12.72" height="9.37" fill="#f4ecb4" stroke="#f6f0dc" stroke-width="0.45"/>
<text x="471.3" y="309.03" font-size="10.6" fill="#1a1a1a" stroke="#1a1a1a" stroke-width="0.18">VDE</text>
<rect x="317.30" y="309.37" width="12.72" height="9.37" fill="#f3e4ae" stroke="#f6f0dc" stroke-width="0.45"/>
<rect x="330.02" y="309.37" width="12.72" height="9.37" fill="#a6b4b3" stroke="#f6f0dc" stroke-width="0.45"/>
<rect x="342.74" y="309.37" width="12.72" height="9.37" fill="#ece6b4" stroke="#f6f0dc" stroke-width="0.45"/>
<rect x="355.46" y="309.37" width="12.72" height="9.37" fill="#8da2b3" stroke="#f6f0dc" stroke-width="0.45"/>
<rect x="368.18" y="309.37" width="12.72" height="9.37" fill="#a6b4b3" stroke="#f6f0dc" stroke-width="0.45"/>
<rect x="380.90" y="309.37" width="12.72" height="9.37" fill="#aebab3" stroke="#f6f0dc" stroke-width="0.45"/>
<rect x="393.62" y="309.37" width="12.72" height="9.37" fill="#aebab3" stroke="#f6f0dc" stroke-width="0.45"/>
<rect x="406.34" y="309.37" width="12.72" height="9.37" fill="#f4ecb4" stroke="#f6f0dc" stroke-width="0.45"/>
<rect x="419.06" y="309.37" width="12.72" height="9.37" fill="#f4ecb4" stroke="#f6f0dc" stroke-width="0.45"/>
<rect x="431.78" y="309.37" width="12.72" height="9.37" fill="#f4ecb4" stroke="#f6f0dc" stroke-width="0.45"/>
<rect x="444.50" y="309.37" width="12.72" height="9.37" fill="#f2dca9" stroke="#f6f0dc" stroke-width="0.45"/>
<rect x="457.22" y="309.37" width="12.72" height="9.37" fill="#f3e4ae" stroke="#f6f0dc" stroke-width="0.45"/>
<text x="471.3" y="318.4" font-size="10.6" fill="#1a1a1a" stroke="#1a1a1a" stroke-width="0.18">NCED1</text>
<rect x="317.30" y="318.74" width="12.72" height="9.37" fill="#eaad87" stroke="#f6f0dc" stroke-width="0.45"/>
<rect x="330.02" y="318.74" width="12.72" height="9.37" fill="#f2dca9" stroke="#f6f0dc" stroke-width="0.45"/>
<rect x="342.74" y="318.74" width="12.72" height="9.37" fill="#e79576" stroke="#f6f0dc" stroke-width="0.45"/>
<rect x="355.46" y="318.74" width="12.72" height="9.37" fill="#f0d4a3" stroke="#f6f0dc" stroke-width="0.45"/>
<rect x="368.18" y="318.74" width="12.72" height="9.37" fill="#edbc92" stroke="#f6f0dc" stroke-width="0.45"/>
<rect x="380.90" y="318.74" width="12.72" height="9.37" fill="#edbc92" stroke="#f6f0dc" stroke-width="0.45"/>
<rect x="393.62" y="318.74" width="12.72" height="9.37" fill="#f2dca9" stroke="#f6f0dc" stroke-width="0.45"/>
<rect x="406.34" y="318.74" width="12.72" height="9.37" fill="#efcc9d" stroke="#f6f0dc" stroke-width="0.45"/>
<rect x="419.06" y="318.74" width="12.72" height="9.37" fill="#95a8b3" stroke="#f6f0dc" stroke-width="0.45"/>
<rect x="431.78" y="318.74" width="12.72" height="9.37" fill="#a6b4b3" stroke="#f6f0dc" stroke-width="0.45"/>
<rect x="444.50" y="318.74" width="12.72" height="9.37" fill="#95a8b3" stroke="#f6f0dc" stroke-width="0.45"/>
<rect x="457.22" y="318.74" width="12.72" height="9.37" fill="#9daeb3" stroke="#f6f0dc" stroke-width="0.45"/>
<text x="471.3" y="327.77" font-size="10.6" fill="#1a1a1a" stroke="#1a1a1a" stroke-width="0.18">NCED2</text>
<rect x="317.30" y="328.11" width="12.72" height="9.37" fill="#f3e4ae" stroke="#f6f0dc" stroke-width="0.45"/>
<rect x="330.02" y="328.11" width="12.72" height="9.37" fill="#cfd1b4" stroke="#f6f0dc" stroke-width="0.45"/>
<rect x="342.74" y="328.11" width="12.72" height="9.37" fill="#b6c0b3" stroke="#f6f0dc" stroke-width="0.45"/>
<rect x="355.46" y="328.11" width="12.72" height="9.37" fill="#bec6b3" stroke="#f6f0dc" stroke-width="0.45"/>
<rect x="368.18" y="328.11" width="12.72" height="9.37" fill="#ece6b4" stroke="#f6f0dc" stroke-width="0.45"/>
<rect x="380.90" y="328.11" width="12.72" height="9.37" fill="#e4e0b4" stroke="#f6f0dc" stroke-width="0.45"/>
<rect x="393.62" y="328.11" width="12.72" height="9.37" fill="#c7cbb4" stroke="#f6f0dc" stroke-width="0.45"/>
<rect x="406.34" y="328.11" width="12.72" height="9.37" fill="#c7cbb4" stroke="#f6f0dc" stroke-width="0.45"/>
<rect x="419.06" y="328.11" width="12.72" height="9.37" fill="#7893b3" stroke="#f6f0dc" stroke-width="0.45"/>
<rect x="431.78" y="328.11" width="12.72" height="9.37" fill="#7893b3" stroke="#f6f0dc" stroke-width="0.45"/>
<rect x="444.50" y="328.11" width="12.72" height="9.37" fill="#7893b3" stroke="#f6f0dc" stroke-width="0.45"/>
<rect x="457.22" y="328.11" width="12.72" height="9.37" fill="#7490b3" stroke="#f6f0dc" stroke-width="0.45"/>
<text x="471.3" y="337.14" font-size="10.6" fill="#1a1a1a" stroke="#1a1a1a" stroke-width="0.18">NCED3</text>
<rect x="317.30" y="337.48" width="12.72" height="9.37" fill="#3664b2" stroke="#f6f0dc" stroke-width="0.45"/>
<rect x="330.02" y="337.48" width="12.72" height="9.37" fill="#3664b2" stroke="#f6f0dc" stroke-width="0.45"/>
<rect x="342.74" y="337.48" width="12.72" height="9.37" fill="#3664b2" stroke="#f6f0dc" stroke-width="0.45"/>
<rect x="355.46" y="337.48" width="12.72" height="9.37" fill="#3f6ab2" stroke="#f6f0dc" stroke-width="0.45"/>
<rect x="368.18" y="337.48" width="12.72" height="9.37" fill="#3f6ab2" stroke="#f6f0dc" stroke-width="0.45"/>
<rect x="380.90" y="337.48" width="12.72" height="9.37" fill="#3664b2" stroke="#f6f0dc" stroke-width="0.45"/>
<rect x="393.62" y="337.48" width="12.72" height="9.37" fill="#3664b2" stroke="#f6f0dc" stroke-width="0.45"/>
<rect x="406.34" y="337.48" width="12.72" height="9.37" fill="#3f6ab2" stroke="#f6f0dc" stroke-width="0.45"/>
<rect x="419.06" y="337.48" width="12.72" height="9.37" fill="#708db3" stroke="#f6f0dc" stroke-width="0.45"/>
<rect x="431.78" y="337.48" width="12.72" height="9.37" fill="#6887b3" stroke="#f6f0dc" stroke-width="0.45"/>
<rect x="444.50" y="337.48" width="12.72" height="9.37" fill="#708db3" stroke="#f6f0dc" stroke-width="0.45"/>
<rect x="457.22" y="337.48" width="12.72" height="9.37" fill="#6887b3" stroke="#f6f0dc" stroke-width="0.45"/>
<text x="471.3" y="346.51" font-size="10.6" fill="#1a1a1a" stroke="#1a1a1a" stroke-width="0.18">ALDO1</text>
<rect x="317.30" y="346.85" width="12.72" height="9.37" fill="#4770b2" stroke="#f6f0dc" stroke-width="0.45"/>
<rect x="330.02" y="346.85" width="12.72" height="9.37" fill="#3664b2" stroke="#f6f0dc" stroke-width="0.45"/>
<rect x="342.74" y="346.85" width="12.72" height="9.37" fill="#4f76b2" stroke="#f6f0dc" stroke-width="0.45"/>
<rect x="355.46" y="346.85" width="12.72" height="9.37" fill="#3f6ab2" stroke="#f6f0dc" stroke-width="0.45"/>
<rect x="368.18" y="346.85" width="12.72" height="9.37" fill="#4f76b2" stroke="#f6f0dc" stroke-width="0.45"/>
<rect x="380.90" y="346.85" width="12.72" height="9.37" fill="#3664b2" stroke="#f6f0dc" stroke-width="0.45"/>
<rect x="393.62" y="346.85" width="12.72" height="9.37" fill="#3f6ab2" stroke="#f6f0dc" stroke-width="0.45"/>
<rect x="406.34" y="346.85" width="12.72" height="9.37" fill="#3664b2" stroke="#f6f0dc" stroke-width="0.45"/>
<rect x="419.06" y="346.85" width="12.72" height="9.37" fill="#708db3" stroke="#f6f0dc" stroke-width="0.45"/>
<rect x="431.78" y="346.85" width="12.72" height="9.37" fill="#708db3" stroke="#f6f0dc" stroke-width="0.45"/>
<rect x="444.50" y="346.85" width="12.72" height="9.37" fill="#7893b3" stroke="#f6f0dc" stroke-width="0.45"/>
<rect x="457.22" y="346.85" width="12.72" height="9.37" fill="#708db3" stroke="#f6f0dc" stroke-width="0.45"/>
<text x="471.3" y="355.88" font-size="10.6" fill="#1a1a1a" stroke="#1a1a1a" stroke-width="0.18">ALDO2</text>
<rect x="317.30" y="356.22" width="12.72" height="9.37" fill="#6887b3" stroke="#f6f0dc" stroke-width="0.45"/>
<rect x="330.02" y="356.22" width="12.72" height="9.37" fill="#c7cbb4" stroke="#f6f0dc" stroke-width="0.45"/>
<rect x="342.74" y="356.22" width="12.72" height="9.37" fill="#aebab3" stroke="#f6f0dc" stroke-width="0.45"/>
<rect x="355.46" y="356.22" width="12.72" height="9.37" fill="#eec498" stroke="#f6f0dc" stroke-width="0.45"/>
<rect x="368.18" y="356.22" width="12.72" height="9.37" fill="#bec6b3" stroke="#f6f0dc" stroke-width="0.45"/>
<rect x="380.90" y="356.22" width="12.72" height="9.37" fill="#efcc9d" stroke="#f6f0dc" stroke-width="0.45"/>
<rect x="393.62" y="356.22" width="12.72" height="9.37" fill="#95a8b3" stroke="#f6f0dc" stroke-width="0.45"/>
<rect x="406.34" y="356.22" width="12.72" height="9.37" fill="#bec6b3" stroke="#f6f0dc" stroke-width="0.45"/>
<rect x="419.06" y="356.22" width="12.72" height="9.37" fill="#7490b3" stroke="#f6f0dc" stroke-width="0.45"/>
<rect x="431.78" y="356.22" width="12.72" height="9.37" fill="#7d96b3" stroke="#f6f0dc" stroke-width="0.45"/>
<rect x="444.50" y="356.22" width="12.72" height="9.37" fill="#7490b3" stroke="#f6f0dc" stroke-width="0.45"/>
<rect x="457.22" y="356.22" width="12.72" height="9.37" fill="#7490b3" stroke="#f6f0dc" stroke-width="0.45"/>
<text x="471.3" y="365.25" font-size="10.6" fill="#1a1a1a" stroke="#1a1a1a" stroke-width="0.18">ALDO3</text>
<rect x="317.30" y="365.59" width="12.72" height="9.37" fill="#6887b3" stroke="#f6f0dc" stroke-width="0.45"/>
<rect x="330.02" y="365.59" width="12.72" height="9.37" fill="#577cb2" stroke="#f6f0dc" stroke-width="0.45"/>
<rect x="342.74" y="365.59" width="12.72" height="9.37" fill="#7893b3" stroke="#f6f0dc" stroke-width="0.45"/>
<rect x="355.46" y="365.59" width="12.72" height="9.37" fill="#7893b3" stroke="#f6f0dc" stroke-width="0.45"/>
<rect x="368.18" y="365.59" width="12.72" height="9.37" fill="#708db3" stroke="#f6f0dc" stroke-width="0.45"/>
<rect x="380.90" y="365.59" width="12.72" height="9.37" fill="#7893b3" stroke="#f6f0dc" stroke-width="0.45"/>
<rect x="393.62" y="365.59" width="12.72" height="9.37" fill="#6081b3" stroke="#f6f0dc" stroke-width="0.45"/>
<rect x="406.34" y="365.59" width="12.72" height="9.37" fill="#6887b3" stroke="#f6f0dc" stroke-width="0.45"/>
<rect x="419.06" y="365.59" width="12.72" height="9.37" fill="#7490b3" stroke="#f6f0dc" stroke-width="0.45"/>
<rect x="431.78" y="365.59" width="12.72" height="9.37" fill="#7490b3" stroke="#f6f0dc" stroke-width="0.45"/>
<rect x="444.50" y="365.59" width="12.72" height="9.37" fill="#7490b3" stroke="#f6f0dc" stroke-width="0.45"/>
<rect x="457.22" y="365.59" width="12.72" height="9.37" fill="#7893b3" stroke="#f6f0dc" stroke-width="0.45"/>
<text x="471.3" y="374.62" font-size="10.6" fill="#1a1a1a" stroke="#1a1a1a" stroke-width="0.18">ALDO4</text>
<rect x="317.30" y="374.96" width="12.72" height="9.37" fill="#3664b2" stroke="#f6f0dc" stroke-width="0.45"/>
<rect x="330.02" y="374.96" width="12.72" height="9.37" fill="#3664b2" stroke="#f6f0dc" stroke-width="0.45"/>
<rect x="342.74" y="374.96" width="12.72" height="9.37" fill="#3f6ab2" stroke="#f6f0dc" stroke-width="0.45"/>
<rect x="355.46" y="374.96" width="12.72" height="9.37" fill="#3664b2" stroke="#f6f0dc" stroke-width="0.45"/>
<rect x="368.18" y="374.96" width="12.72" height="9.37" fill="#2e5eb2" stroke="#f6f0dc" stroke-width="0.45"/>
<rect x="380.90" y="374.96" width="12.72" height="9.37" fill="#3664b2" stroke="#f6f0dc" stroke-width="0.45"/>
<rect x="393.62" y="374.96" width="12.72" height="9.37" fill="#3f6ab2" stroke="#f6f0dc" stroke-width="0.45"/>
<rect x="406.34" y="374.96" width="12.72" height="9.37" fill="#3f6ab2" stroke="#f6f0dc" stroke-width="0.45"/>
<rect x="419.06" y="374.96" width="12.72" height="9.37" fill="#7490b3" stroke="#f6f0dc" stroke-width="0.45"/>
<rect x="431.78" y="374.96" width="12.72" height="9.37" fill="#7893b3" stroke="#f6f0dc" stroke-width="0.45"/>
<rect x="444.50" y="374.96" width="12.72" height="9.37" fill="#c7cbb4" stroke="#f6f0dc" stroke-width="0.45"/>
<rect x="457.22" y="374.96" width="12.72" height="9.37" fill="#859cb3" stroke="#f6f0dc" stroke-width="0.45"/>
<text x="471.3" y="383.99" font-size="10.6" fill="#1a1a1a" stroke="#1a1a1a" stroke-width="0.18">SDH</text>
<rect x="317.30" y="384.33" width="12.72" height="9.37" fill="#4770b2" stroke="#f6f0dc" stroke-width="0.45"/>
<rect x="330.02" y="384.33" width="12.72" height="9.37" fill="#3664b2" stroke="#f6f0dc" stroke-width="0.45"/>
<rect x="342.74" y="384.33" width="12.72" height="9.37" fill="#3664b2" stroke="#f6f0dc" stroke-width="0.45"/>
<rect x="355.46" y="384.33" width="12.72" height="9.37" fill="#4770b2" stroke="#f6f0dc" stroke-width="0.45"/>
<rect x="368.18" y="384.33" width="12.72" height="9.37" fill="#3f6ab2" stroke="#f6f0dc" stroke-width="0.45"/>
<rect x="380.90" y="384.33" width="12.72" height="9.37" fill="#3f6ab2" stroke="#f6f0dc" stroke-width="0.45"/>
<rect x="393.62" y="384.33" width="12.72" height="9.37" fill="#4f76b2" stroke="#f6f0dc" stroke-width="0.45"/>
<rect x="406.34" y="384.33" width="12.72" height="9.37" fill="#4770b2" stroke="#f6f0dc" stroke-width="0.45"/>
<rect x="419.06" y="384.33" width="12.72" height="9.37" fill="#7490b3" stroke="#f6f0dc" stroke-width="0.45"/>
<rect x="431.78" y="384.33" width="12.72" height="9.37" fill="#7893b3" stroke="#f6f0dc" stroke-width="0.45"/>
<rect x="444.50" y="384.33" width="12.72" height="9.37" fill="#7490b3" stroke="#f6f0dc" stroke-width="0.45"/>
<rect x="457.22" y="384.33" width="12.72" height="9.37" fill="#7893b3" stroke="#f6f0dc" stroke-width="0.45"/>
<text x="471.3" y="393.36" font-size="10.6" fill="#1a1a1a" stroke="#1a1a1a" stroke-width="0.18">ATA1</text>
<rect x="317.30" y="393.70" width="12.72" height="9.37" fill="#8da2b3" stroke="#f6f0dc" stroke-width="0.45"/>
<rect x="330.02" y="393.70" width="12.72" height="9.37" fill="#bec6b3" stroke="#f6f0dc" stroke-width="0.45"/>
<rect x="342.74" y="393.70" width="12.72" height="9.37" fill="#95a8b3" stroke="#f6f0dc" stroke-width="0.45"/>
<rect x="355.46" y="393.70" width="12.72" height="9.37" fill="#7d96b3" stroke="#f6f0dc" stroke-width="0.45"/>
<rect x="368.18" y="393.70" width="12.72" height="9.37" fill="#ece6b4" stroke="#f6f0dc" stroke-width="0.45"/>
<rect x="380.90" y="393.70" width="12.72" height="9.37" fill="#bec6b3" stroke="#f6f0dc" stroke-width="0.45"/>
<rect x="393.62" y="393.70" width="12.72" height="9.37" fill="#cfd1b4" stroke="#f6f0dc" stroke-width="0.45"/>
<rect x="406.34" y="393.70" width="12.72" height="9.37" fill="#c7cbb4" stroke="#f6f0dc" stroke-width="0.45"/>
<rect x="419.06" y="393.70" width="12.72" height="9.37" fill="#7d96b3" stroke="#f6f0dc" stroke-width="0.45"/>
<rect x="431.78" y="393.70" width="12.72" height="9.37" fill="#7d96b3" stroke="#f6f0dc" stroke-width="0.45"/>
<rect x="444.50" y="393.70" width="12.72" height="9.37" fill="#859cb3" stroke="#f6f0dc" stroke-width="0.45"/>
<rect x="457.22" y="393.70" width="12.72" height="9.37" fill="#859cb3" stroke="#f6f0dc" stroke-width="0.45"/>
<text x="471.3" y="402.73" font-size="10.6" fill="#1a1a1a" stroke="#1a1a1a" stroke-width="0.18">NEPS1</text>
<rect x="317.30" y="403.07" width="12.72" height="9.37" fill="#7490b3" stroke="#f6f0dc" stroke-width="0.45"/>
<rect x="330.02" y="403.07" width="12.72" height="9.37" fill="#a6b4b3" stroke="#f6f0dc" stroke-width="0.45"/>
<rect x="342.74" y="403.07" width="12.72" height="9.37" fill="#c7cbb4" stroke="#f6f0dc" stroke-width="0.45"/>
<rect x="355.46" y="403.07" width="12.72" height="9.37" fill="#f3e4ae" stroke="#f6f0dc" stroke-width="0.45"/>
<rect x="368.18" y="403.07" width="12.72" height="9.37" fill="#f4ecb4" stroke="#f6f0dc" stroke-width="0.45"/>
<rect x="380.90" y="403.07" width="12.72" height="9.37" fill="#efcc9d" stroke="#f6f0dc" stroke-width="0.45"/>
<rect x="393.62" y="403.07" width="12.72" height="9.37" fill="#f3e4ae" stroke="#f6f0dc" stroke-width="0.45"/>
<rect x="406.34" y="403.07" width="12.72" height="9.37" fill="#eec498" stroke="#f6f0dc" stroke-width="0.45"/>
<rect x="419.06" y="403.07" width="12.72" height="9.37" fill="#ece6b4" stroke="#f6f0dc" stroke-width="0.45"/>
<rect x="431.78" y="403.07" width="12.72" height="9.37" fill="#ece6b4" stroke="#f6f0dc" stroke-width="0.45"/>
<rect x="444.50" y="403.07" width="12.72" height="9.37" fill="#b6c0b3" stroke="#f6f0dc" stroke-width="0.45"/>
<rect x="457.22" y="403.07" width="12.72" height="9.37" fill="#c7cbb4" stroke="#f6f0dc" stroke-width="0.45"/>
<text x="471.3" y="412.1" font-size="10.6" fill="#1a1a1a" stroke="#1a1a1a" stroke-width="0.18">SILD</text>
<rect x="317.30" y="412.44" width="12.72" height="9.37" fill="#cfd1b4" stroke="#f6f0dc" stroke-width="0.45"/>
<rect x="330.02" y="412.44" width="12.72" height="9.37" fill="#bec6b3" stroke="#f6f0dc" stroke-width="0.45"/>
<rect x="342.74" y="412.44" width="12.72" height="9.37" fill="#e4e0b4" stroke="#f6f0dc" stroke-width="0.45"/>
<rect x="355.46" y="412.44" width="12.72" height="9.37" fill="#bec6b3" stroke="#f6f0dc" stroke-width="0.45"/>
<rect x="368.18" y="412.44" width="12.72" height="9.37" fill="#f4ecb4" stroke="#f6f0dc" stroke-width="0.45"/>
<rect x="380.90" y="412.44" width="12.72" height="9.37" fill="#c7cbb4" stroke="#f6f0dc" stroke-width="0.45"/>
<rect x="393.62" y="412.44" width="12.72" height="9.37" fill="#c7cbb4" stroke="#f6f0dc" stroke-width="0.45"/>
<rect x="406.34" y="412.44" width="12.72" height="9.37" fill="#cfd1b4" stroke="#f6f0dc" stroke-width="0.45"/>
<rect x="419.06" y="412.44" width="12.72" height="9.37" fill="#c7cbb4" stroke="#f6f0dc" stroke-width="0.45"/>
<rect x="431.78" y="412.44" width="12.72" height="9.37" fill="#a6b4b3" stroke="#f6f0dc" stroke-width="0.45"/>
<rect x="444.50" y="412.44" width="12.72" height="9.37" fill="#cfd1b4" stroke="#f6f0dc" stroke-width="0.45"/>
<rect x="457.22" y="412.44" width="12.72" height="9.37" fill="#aebab3" stroke="#f6f0dc" stroke-width="0.45"/>
<text x="471.3" y="421.47" font-size="10.6" fill="#1a1a1a" stroke="#1a1a1a" stroke-width="0.18">SILD2</text>
<rect x="317.30" y="421.81" width="12.72" height="9.37" fill="#577cb2" stroke="#f6f0dc" stroke-width="0.45"/>
<rect x="330.02" y="421.81" width="12.72" height="9.37" fill="#6081b3" stroke="#f6f0dc" stroke-width="0.45"/>
<rect x="342.74" y="421.81" width="12.72" height="9.37" fill="#6081b3" stroke="#f6f0dc" stroke-width="0.45"/>
<rect x="355.46" y="421.81" width="12.72" height="9.37" fill="#6081b3" stroke="#f6f0dc" stroke-width="0.45"/>
<rect x="368.18" y="421.81" width="12.72" height="9.37" fill="#3f6ab2" stroke="#f6f0dc" stroke-width="0.45"/>
<rect x="380.90" y="421.81" width="12.72" height="9.37" fill="#4f76b2" stroke="#f6f0dc" stroke-width="0.45"/>
<rect x="393.62" y="421.81" width="12.72" height="9.37" fill="#4f76b2" stroke="#f6f0dc" stroke-width="0.45"/>
<rect x="406.34" y="421.81" width="12.72" height="9.37" fill="#3f6ab2" stroke="#f6f0dc" stroke-width="0.45"/>
<rect x="419.06" y="421.81" width="12.72" height="9.37" fill="#7893b3" stroke="#f6f0dc" stroke-width="0.45"/>
<rect x="431.78" y="421.81" width="12.72" height="9.37" fill="#708db3" stroke="#f6f0dc" stroke-width="0.45"/>
<rect x="444.50" y="421.81" width="12.72" height="9.37" fill="#7893b3" stroke="#f6f0dc" stroke-width="0.45"/>
<rect x="457.22" y="421.81" width="12.72" height="9.37" fill="#708db3" stroke="#f6f0dc" stroke-width="0.45"/>
<text x="471.3" y="430.84" font-size="10.6" fill="#1a1a1a" stroke="#1a1a1a" stroke-width="0.18">NSY</text>
<text x="328.56" y="436.88" font-size="7.0" fill="#2a2a2a" text-anchor="end" transform="rotate(-40 328.56 436.88)" stroke="#2a2a2a" stroke-width="0.18">X10</text>
<text x="341.28" y="436.88" font-size="7.0" fill="#2a2a2a" text-anchor="end" transform="rotate(-40 341.28 436.88)" stroke="#2a2a2a" stroke-width="0.18">W10</text>
<text x="354.0" y="436.88" font-size="7.0" fill="#2a2a2a" text-anchor="end" transform="rotate(-40 354.0 436.88)" stroke="#2a2a2a" stroke-width="0.18">X20</text>
<text x="366.72" y="436.88" font-size="7.0" fill="#2a2a2a" text-anchor="end" transform="rotate(-40 366.72 436.88)" stroke="#2a2a2a" stroke-width="0.18">W20</text>
<text x="379.44" y="436.88" font-size="7.0" fill="#2a2a2a" text-anchor="end" transform="rotate(-40 379.44 436.88)" stroke="#2a2a2a" stroke-width="0.18">X30</text>
<text x="392.16" y="436.88" font-size="7.0" fill="#2a2a2a" text-anchor="end" transform="rotate(-40 392.16 436.88)" stroke="#2a2a2a" stroke-width="0.18">W30</text>
<text x="404.88" y="436.88" font-size="7.0" fill="#2a2a2a" text-anchor="end" transform="rotate(-40 404.88 436.88)" stroke="#2a2a2a" stroke-width="0.18">X40</text>
<text x="417.6" y="436.88" font-size="7.0" fill="#2a2a2a" text-anchor="end" transform="rotate(-40 417.6 436.88)" stroke="#2a2a2a" stroke-width="0.18">W40</text>
<text x="430.32" y="436.88" font-size="7.0" fill="#2a2a2a" text-anchor="end" transform="rotate(-40 430.32 436.88)" stroke="#2a2a2a" stroke-width="0.18">X50</text>
<text x="443.04" y="436.88" font-size="7.0" fill="#2a2a2a" text-anchor="end" transform="rotate(-40 443.04 436.88)" stroke="#2a2a2a" stroke-width="0.18">W50</text>
<text x="455.76" y="436.88" font-size="7.0" fill="#2a2a2a" text-anchor="end" transform="rotate(-40 455.76 436.88)" stroke="#2a2a2a" stroke-width="0.18">X60</text>
<text x="468.48" y="436.88" font-size="7.0" fill="#2a2a2a" text-anchor="end" transform="rotate(-40 468.48 436.88)" stroke="#2a2a2a" stroke-width="0.18">W60</text>
<defs><linearGradient id="cs" x1="0" y1="0" x2="0" y2="1"><stop offset="0" stop-color="#d62626"/><stop offset="0.5" stop-color="#f8f0b2"/><stop offset="1" stop-color="#2658b2"/></linearGradient></defs>
<rect x="516.9" y="354.9" width="10.4" height="75.2" fill="url(#cs)"/>
<line x1="527.30" y1="356.00" x2="528.60" y2="356.00" stroke="#444" stroke-width="0.5"/>
<text x="543.9" y="358.2" font-size="6.3" fill="#333" text-anchor="end" stroke="#333" stroke-width="0.18">3.00</text>
<line x1="527.30" y1="363.41" x2="528.60" y2="363.41" stroke="#444" stroke-width="0.5"/>
<text x="543.9" y="365.61" font-size="6.3" fill="#333" text-anchor="end" stroke="#333" stroke-width="0.18">2.50</text>
<line x1="527.30" y1="370.82" x2="528.60" y2="370.82" stroke="#444" stroke-width="0.5"/>
<text x="543.9" y="373.02" font-size="6.3" fill="#333" text-anchor="end" stroke="#333" stroke-width="0.18">2.00</text>
<line x1="527.30" y1="378.23" x2="528.60" y2="378.23" stroke="#444" stroke-width="0.5"/>
<text x="543.9" y="380.43" font-size="6.3" fill="#333" text-anchor="end" stroke="#333" stroke-width="0.18">1.50</text>
<line x1="527.30" y1="385.64" x2="528.60" y2="385.64" stroke="#444" stroke-width="0.5"/>
<text x="543.9" y="387.84" font-size="6.3" fill="#333" text-anchor="end" stroke="#333" stroke-width="0.18">1.00</text>
<line x1="527.30" y1="393.05" x2="528.60" y2="393.05" stroke="#444" stroke-width="0.5"/>
<text x="543.9" y="395.25" font-size="6.3" fill="#333" text-anchor="end" stroke="#333" stroke-width="0.18">0.50</text>
<line x1="527.30" y1="400.46" x2="528.60" y2="400.46" stroke="#444" stroke-width="0.5"/>
<text x="543.9" y="402.66" font-size="6.3" fill="#333" text-anchor="end" stroke="#333" stroke-width="0.18">0.00</text>
<line x1="527.30" y1="407.87" x2="528.60" y2="407.87" stroke="#444" stroke-width="0.5"/>
<text x="543.9" y="410.07" font-size="6.3" fill="#333" text-anchor="end" stroke="#333" stroke-width="0.18">−0.50</text>
<line x1="527.30" y1="415.28" x2="528.60" y2="415.28" stroke="#444" stroke-width="0.5"/>
<text x="543.9" y="417.48" font-size="6.3" fill="#333" text-anchor="end" stroke="#333" stroke-width="0.18">−1.00</text>
<line x1="527.30" y1="422.69" x2="528.60" y2="422.69" stroke="#444" stroke-width="0.5"/>
<text x="543.9" y="424.89" font-size="6.3" fill="#333" text-anchor="end" stroke="#333" stroke-width="0.18">−1.50</text>
<line x1="527.30" y1="430.10" x2="528.60" y2="430.10" stroke="#444" stroke-width="0.5"/>
<text x="543.9" y="432.3" font-size="6.3" fill="#333" text-anchor="end" stroke="#333" stroke-width="0.18">−2.00</text>
<rect x="200.60" y="32.40" width="99.00" height="16.10" fill="#fff" stroke="#555" stroke-width="0.75"/>
<text x="250.1" y="44.39" font-size="10.4" fill="#111" text-anchor="middle" stroke="#111" stroke-width="0.18">Geranyl-gerany PP</text>
<line x1="250.10" y1="51.50" x2="250.10" y2="66.10" stroke="#222" stroke-width="1.1"/>
<polygon points="247.90,65.60 252.30,65.60 250.10,69.80" fill="#222"/>
<text x="272.5" y="59.07" font-size="10.2" fill="#ee2a24">PSY1</text>
<text x="272.5" y="69.67" font-size="10.2" fill="#ee2a24">PSY2</text>
<rect x="223.40" y="71.80" width="54.40" height="14.40" fill="#fff" stroke="#555" stroke-width="0.75"/>
<text x="250.6" y="83.04" font-size="10.4" fill="#111" text-anchor="middle" stroke="#111" stroke-width="0.18">Phytoene</text>
<line x1="250.10" y1="89.40" x2="250.10" y2="104.90" stroke="#222" stroke-width="1.1"/>
<polygon points="247.90,104.40 252.30,104.40 250.10,108.60" fill="#222"/>
<text x="270.8" y="103.37" font-size="10.2" fill="#ee2a24">PDS</text>
<rect x="210.00" y="110.20" width="80.80" height="15.80" fill="#e0702a" stroke="#4a3a20" stroke-width="0.75"/>
<text x="250.4" y="121.74" font-size="10.4" fill="#111" text-anchor="middle" stroke="#111" stroke-width="0.18">Zeta-carotene</text>
<line x1="250.10" y1="129.60" x2="250.10" y2="144.90" stroke="#222" stroke-width="1.1"/>
<polygon points="247.90,144.40 252.30,144.40 250.10,148.60" fill="#222"/>
<text x="270" y="138.47" font-size="10.2" fill="#ee2a24">ZDS</text>
<text x="261.3" y="152.97" font-size="10.2" fill="#ee2a24">CRTISO</text>
<rect x="206.40" y="157.20" width="87.00" height="15.60" fill="#ee1c1c" stroke="#4a3a20" stroke-width="0.9"/>
<text x="252.2" y="168.7" font-size="10.4" fill="#111" text-anchor="middle" font-weight="bold">Trans-lycopene</text>
<line x1="250.10" y1="177.50" x2="250.10" y2="193.30" stroke="#222" stroke-width="1.1"/>
<polygon points="247.90,192.80 252.30,192.80 250.10,197.00" fill="#222"/>
<text x="271.5" y="193.97" font-size="10.2" fill="#ee2a24">LCYB</text>
<rect x="202.60" y="201.20" width="95.60" height="16.40" fill="#f6a436" stroke="#4a3a20" stroke-width="0.75"/>
<text x="250.4" y="212.97" font-size="10.2" fill="#111" text-anchor="middle" stroke="#111" stroke-width="0.18">Gamma-carotene</text>
<line x1="250.10" y1="222.00" x2="250.10" y2="238.10" stroke="#222" stroke-width="1.1"/>
<polygon points="247.90,237.60 252.30,237.60 250.10,241.80" fill="#222"/>
<text x="271.5" y="233.97" font-size="10.2" fill="#ee2a24">LCYB</text>
<rect x="210.50" y="247.20" width="78.90" height="15.80" fill="#f6a436" stroke="#4a3a20" stroke-width="0.75"/>
<text x="249.95" y="258.74" font-size="10.4" fill="#111" text-anchor="middle" stroke="#111" stroke-width="0.18">Beta-carotene</text>
<line x1="250.10" y1="267.60" x2="250.10" y2="282.20" stroke="#222" stroke-width="1.1"/>
<polygon points="247.90,281.70 252.30,281.70 250.10,285.90" fill="#222"/>
<text x="268.3" y="282.97" font-size="10.2" fill="#ee2a24">CHYB</text>
<rect x="214.60" y="288.30" width="71.80" height="15.70" fill="#fdf733" stroke="#4a3a20" stroke-width="0.75"/>
<text x="250.5" y="299.79" font-size="10.4" fill="#111" text-anchor="middle" stroke="#111" stroke-width="0.18">Zeaxanthin</text>
<line x1="250.10" y1="307.80" x2="250.10" y2="323.80" stroke="#222" stroke-width="1.1"/>
<polygon points="247.90,323.30 252.30,323.30 250.10,327.50" fill="#222"/>
<line x1="261.50" y1="311.50" x2="261.50" y2="327.50" stroke="#222" stroke-width="1.1"/>
<polygon points="259.30,312.00 263.70,312.00 261.50,307.80" fill="#222"/>
<text x="207.5" y="321.17" font-size="10.2" fill="#ee2a24">ZEP</text>
<text x="274.5" y="321.17" font-size="10.2" fill="#ee2a24">VDE</text>
<rect x="209.00" y="333.00" width="82.00" height="16.20" fill="#fdf733" stroke="#4a3a20" stroke-width="0.75"/>
<text x="250.0" y="344.74" font-size="10.4" fill="#111" text-anchor="middle" stroke="#111" stroke-width="0.18">Antheraxanthin</text>
<line x1="250.10" y1="354.00" x2="250.10" y2="370.00" stroke="#222" stroke-width="1.1"/>
<polygon points="247.90,369.50 252.30,369.50 250.10,373.70" fill="#222"/>
<line x1="261.50" y1="357.70" x2="261.50" y2="373.70" stroke="#222" stroke-width="1.1"/>
<polygon points="259.30,358.20 263.70,358.20 261.50,354.00" fill="#222"/>
<text x="207.8" y="370.97" font-size="10.2" fill="#ee2a24">ZEP</text>
<text x="276" y="371.27" font-size="10.2" fill="#ee2a24">VDE</text>
<rect x="215.20" y="379.20" width="69.00" height="16.20" fill="#fdf733" stroke="#4a3a20" stroke-width="0.75"/>
<text x="249.7" y="390.94" font-size="10.4" fill="#111" text-anchor="middle" stroke="#111" stroke-width="0.18">Violaxanthin</text>
<line x1="250.10" y1="397.40" x2="250.10" y2="411.70" stroke="#222" stroke-width="1.1"/>
<polygon points="247.90,411.20 252.30,411.20 250.10,415.40" fill="#222"/>
<text x="273" y="412.67" font-size="10.2" fill="#ee2a24">NXS</text>
<rect x="216.00" y="417.40" width="68.00" height="16.40" fill="#fdf733" stroke="#4a3a20" stroke-width="0.75"/>
<text x="250.0" y="429.24" font-size="10.4" fill="#111" text-anchor="middle" stroke="#111" stroke-width="0.18">Neoxanthin</text>
<line x1="212.00" y1="185.20" x2="198.00" y2="193.80" stroke="#222" stroke-width="1.1"/>
<polygon points="194.3,196 199.3,195.7 196.9,191.6" fill="#222"/>
<text x="162.8" y="205.28" font-size="10.5" fill="#ee2a24">LCYE</text>
<rect x="63.00" y="201.20" width="87.00" height="15.80" fill="#f6a436" stroke="#4a3a20" stroke-width="0.75"/>
<text x="106.5" y="212.67" font-size="10.2" fill="#111" text-anchor="middle" stroke="#111" stroke-width="0.18">Delta-carotene</text>
<text x="52.5" y="234.27" font-size="10.2" fill="#ee2a24">LCYB</text>
<line x1="106.10" y1="221.80" x2="106.10" y2="237.50" stroke="#222" stroke-width="1.1"/>
<polygon points="103.90,237.00 108.30,237.00 106.10,241.20" fill="#222"/>
<rect x="63.00" y="243.50" width="87.00" height="16.00" fill="#f6a436" stroke="#4a3a20" stroke-width="0.75"/>
<text x="106.5" y="255.1" font-size="10.3" fill="#111" text-anchor="middle" stroke="#111" stroke-width="0.18">Alpha-carotene</text>
<text x="51" y="276.47" font-size="10.2" fill="#ee2a24">CHYB</text>
<line x1="106.10" y1="265.00" x2="106.10" y2="280.30" stroke="#222" stroke-width="1.1"/>
<polygon points="103.90,279.80 108.30,279.80 106.10,284.00" fill="#222"/>
<rect x="53.80" y="286.00" width="105.20" height="23.50" fill="#fdf733" stroke="#4a3a20" stroke-width="0.9"/>
<text x="106.4" y="296.4" font-size="10.2" fill="#111" text-anchor="middle" stroke="#111" stroke-width="0.18">Zeaxanthin</text>
<text x="106.4" y="305.6" font-size="10.2" fill="#111" text-anchor="middle" stroke="#111" stroke-width="0.18">Alpha-Cryptoxanthin</text>
<text x="51" y="326.17" font-size="10.2" fill="#ee2a24">CHYE</text>
<line x1="106.10" y1="311.50" x2="106.10" y2="326.80" stroke="#222" stroke-width="1.1"/>
<polygon points="103.90,326.30 108.30,326.30 106.10,330.50" fill="#222"/>
<rect x="83.00" y="332.70" width="47.00" height="15.70" fill="#fdf733" stroke="#4a3a20" stroke-width="0.75"/>
<text x="106.5" y="344.19" font-size="10.4" fill="#111" text-anchor="middle" stroke="#111" stroke-width="0.18">Lutein</text>
<text x="59" y="362.67" font-size="10.2" fill="#ee2a24">ZEP</text>
<text x="122.5" y="367.67" font-size="10.2" fill="#ee2a24">VDE</text>
<line x1="106.10" y1="353.00" x2="106.10" y2="367.80" stroke="#222" stroke-width="1.1"/>
<polygon points="103.90,367.30 108.30,367.30 106.10,371.50" fill="#222"/>
<line x1="106.10" y1="354.20" x2="106.10" y2="365.00" stroke="#222" stroke-width="1.1"/>
<polygon points="103.90,354.70 108.30,354.70 106.10,350.50" fill="#222"/>
<rect x="71.50" y="374.20" width="70.00" height="16.00" fill="#fdf733" stroke="#4a3a20" stroke-width="0.75"/>
<text x="106.5" y="385.84" font-size="10.4" fill="#111" text-anchor="middle" stroke="#111" stroke-width="0.18">Epoxylutein</text>
<rect x="80.00" y="413.20" width="41.50" height="16.80" fill="#fff" stroke="#999" stroke-width="0.75"/>
<text x="100.75" y="425.24" font-size="10.4" fill="#333" text-anchor="middle" stroke="#333" stroke-width="0.18">ABA</text>
<g fill="#fff" stroke="#b0b0b0" stroke-width="0.6">
<polygon points="194.9,391.4 195.5,392.8 169.2,406.4 170.1,408.2 163.8,408.6 167.5,403.2 168.4,405"/>
<polygon points="197.5,426.2 197.5,427.8 166.5,427.8 166.5,429.6 161,427 166.5,424.4 166.5,426.2"/>
</g>
<text x="7" y="460.2" font-size="15" fill="#1a1a1a" stroke="#1a1a1a" stroke-width="0.18">B</text>
<text x="111" y="462.8" font-size="8.6" fill="#222" text-anchor="middle" font-style="italic" stroke="#222" stroke-width="0.18">SlPSY2</text>
<text x="20.3" y="520.5" font-size="7.4" fill="#222" stroke="#222" stroke-width="0.18" text-anchor="middle" transform="rotate(-90 20.3 520.5)">Relative expression of <tspan font-style="italic">SlPYS2</tspan></text>
<rect x="46.75" y="564.19" width="8.70" height="2.11" fill="#ffffff" stroke="#3a3a3a" stroke-width="0.7"/>
<rect x="60.55" y="562.50" width="8.70" height="3.80" fill="#ffffff" stroke="#3a3a3a" stroke-width="0.7"/>
<rect x="82.45" y="556.59" width="8.70" height="9.71" fill="#a8a8a8" stroke="#3a3a3a" stroke-width="0.7"/>
<rect x="96.15" y="564.61" width="8.70" height="1.69" fill="#a8a8a8" stroke="#3a3a3a" stroke-width="0.7"/>
<rect x="118.15" y="475.30" width="8.70" height="91.00" fill="#7f7f7f" stroke="#3a3a3a" stroke-width="0.7"/>
<rect x="131.85" y="546.47" width="8.70" height="19.83" fill="#7f7f7f" stroke="#3a3a3a" stroke-width="0.7"/>
<rect x="153.85" y="508.74" width="8.70" height="57.56" fill="#d6d6d6" stroke="#8a8a8a" stroke-width="0.7"/>
<rect x="167.55" y="514.40" width="8.70" height="51.90" fill="#d6d6d6" stroke="#8a8a8a" stroke-width="0.7"/>
<rect x="43.40" y="518.00" width="137.60" height="5.20" fill="#fff"/>
<line x1="51.10" y1="563.69" x2="51.10" y2="564.19" stroke="#333" stroke-width="0.7"/>
<line x1="48.90" y1="563.69" x2="53.30" y2="563.69" stroke="#333" stroke-width="0.7"/>
<text x="51.1" y="562.1" font-size="7.5" fill="#222" text-anchor="middle" stroke="#222" stroke-width="0.18">c</text>
<line x1="64.90" y1="561.90" x2="64.90" y2="562.50" stroke="#333" stroke-width="0.7"/>
<line x1="62.70" y1="561.90" x2="67.10" y2="561.90" stroke="#333" stroke-width="0.7"/>
<text x="64.9" y="560.3" font-size="7.5" fill="#222" text-anchor="middle" font-style="italic" stroke="#222" stroke-width="0.18">c</text>
<text x="64.9" y="554.9" font-size="8" fill="#222" text-anchor="middle" font-weight="bold">**</text>
<line x1="86.80" y1="555.89" x2="86.80" y2="556.59" stroke="#333" stroke-width="0.7"/>
<line x1="84.60" y1="555.89" x2="89.00" y2="555.89" stroke="#333" stroke-width="0.7"/>
<text x="86.8" y="554.3" font-size="7.5" fill="#222" text-anchor="middle" stroke="#222" stroke-width="0.18">c</text>
<line x1="100.50" y1="564.11" x2="100.50" y2="564.61" stroke="#333" stroke-width="0.7"/>
<line x1="98.30" y1="564.11" x2="102.70" y2="564.11" stroke="#333" stroke-width="0.7"/>
<text x="100.5" y="562.5" font-size="7.5" fill="#222" text-anchor="middle" font-style="italic" stroke="#222" stroke-width="0.18">c</text>
<text x="100.5" y="557.1" font-size="8" fill="#222" text-anchor="middle" font-weight="bold">**</text>
<line x1="122.50" y1="474.30" x2="122.50" y2="475.30" stroke="#333" stroke-width="0.7"/>
<line x1="120.30" y1="474.30" x2="124.70" y2="474.30" stroke="#333" stroke-width="0.7"/>
<text x="122.5" y="472.7" font-size="7.5" fill="#222" text-anchor="middle" stroke="#222" stroke-width="0.18">a</text>
<line x1="136.20" y1="543.47" x2="136.20" y2="546.47" stroke="#333" stroke-width="0.7"/>
<line x1="134.00" y1="543.47" x2="138.40" y2="543.47" stroke="#333" stroke-width="0.7"/>
<text x="136.2" y="541.9" font-size="7.5" fill="#222" text-anchor="middle" font-style="italic" stroke="#222" stroke-width="0.18">b</text>
<text x="136.2" y="536.5" font-size="8" fill="#222" text-anchor="middle" font-weight="bold">****</text>
<line x1="158.20" y1="507.54" x2="158.20" y2="508.74" stroke="#333" stroke-width="0.7"/>
<line x1="156.00" y1="507.54" x2="160.40" y2="507.54" stroke="#333" stroke-width="0.7"/>
<text x="158.2" y="505.9" font-size="7.5" fill="#222" text-anchor="middle" stroke="#222" stroke-width="0.18">b</text>
<line x1="171.90" y1="513.60" x2="171.90" y2="514.40" stroke="#333" stroke-width="0.7"/>
<line x1="169.70" y1="513.60" x2="174.10" y2="513.60" stroke="#333" stroke-width="0.7"/>
<text x="171.9" y="512.0" font-size="7.5" fill="#222" text-anchor="middle" font-style="italic" stroke="#222" stroke-width="0.18">a</text>
<text x="171.9" y="506.6" font-size="8" fill="#222" text-anchor="middle" font-weight="bold">**</text>
<line x1="42.40" y1="474.60" x2="42.40" y2="517.40" stroke="#222" stroke-width="0.9"/>
<line x1="42.40" y1="523.80" x2="42.40" y2="566.30" stroke="#222" stroke-width="0.9"/>
<line x1="40.20" y1="518.60" x2="44.60" y2="516.20" stroke="#222" stroke-width="0.8"/>
<line x1="40.20" y1="525.00" x2="44.60" y2="522.60" stroke="#222" stroke-width="0.8"/>
<line x1="41.95" y1="566.30" x2="181.00" y2="566.30" stroke="#222" stroke-width="0.9"/>
<line x1="39.40" y1="566.30" x2="42.40" y2="566.30" stroke="#222" stroke-width="0.8"/>
<text x="38.199999999999996" y="569.1" font-size="7.8" fill="#222" text-anchor="end" stroke="#222" stroke-width="0.18">0</text>
<line x1="39.40" y1="555.75" x2="42.40" y2="555.75" stroke="#222" stroke-width="0.8"/>
<text x="38.199999999999996" y="558.5" font-size="7.8" fill="#222" text-anchor="end" stroke="#222" stroke-width="0.18">5</text>
<line x1="39.40" y1="545.20" x2="42.40" y2="545.20" stroke="#222" stroke-width="0.8"/>
<text x="38.199999999999996" y="548.0" font-size="7.8" fill="#222" text-anchor="end" stroke="#222" stroke-width="0.18">10</text>
<line x1="39.40" y1="534.65" x2="42.40" y2="534.65" stroke="#222" stroke-width="0.8"/>
<text x="38.199999999999996" y="537.4" font-size="7.8" fill="#222" text-anchor="end" stroke="#222" stroke-width="0.18">15</text>
<line x1="39.40" y1="524.10" x2="42.40" y2="524.10" stroke="#222" stroke-width="0.8"/>
<text x="38.199999999999996" y="526.9" font-size="7.8" fill="#222" text-anchor="end" stroke="#222" stroke-width="0.18">20</text>
<line x1="39.40" y1="506.80" x2="42.40" y2="506.80" stroke="#222" stroke-width="0.8"/>
<text x="38.199999999999996" y="509.6" font-size="7.8" fill="#222" text-anchor="end" stroke="#222" stroke-width="0.18">100</text>
<line x1="39.40" y1="493.90" x2="42.40" y2="493.90" stroke="#222" stroke-width="0.8"/>
<text x="38.199999999999996" y="496.7" font-size="7.8" fill="#222" text-anchor="end" stroke="#222" stroke-width="0.18">200</text>
<line x1="39.40" y1="481.00" x2="42.40" y2="481.00" stroke="#222" stroke-width="0.8"/>
<text x="38.199999999999996" y="483.8" font-size="7.8" fill="#222" text-anchor="end" stroke="#222" stroke-width="0.18">300</text>
<line x1="51.10" y1="566.30" x2="51.10" y2="568.90" stroke="#222" stroke-width="0.7"/>
<text x="50.5" y="575.9" font-size="7.0" fill="#222" text-anchor="middle" stroke="#222" stroke-width="0.18">W30</text>
<line x1="64.90" y1="566.30" x2="64.90" y2="568.90" stroke="#222" stroke-width="0.7"/>
<text x="65.5" y="575.9" font-size="7.0" fill="#222" text-anchor="middle" stroke="#222" stroke-width="0.18">Z30</text>
<line x1="86.80" y1="566.30" x2="86.80" y2="568.90" stroke="#222" stroke-width="0.7"/>
<text x="86.2" y="575.9" font-size="7.0" fill="#222" text-anchor="middle" stroke="#222" stroke-width="0.18">W40</text>
<line x1="100.50" y1="566.30" x2="100.50" y2="568.90" stroke="#222" stroke-width="0.7"/>
<text x="101.1" y="575.9" font-size="7.0" fill="#222" text-anchor="middle" stroke="#222" stroke-width="0.18">Z40</text>
<line x1="122.50" y1="566.30" x2="122.50" y2="568.90" stroke="#222" stroke-width="0.7"/>
<text x="121.9" y="575.9" font-size="7.0" fill="#222" text-anchor="middle" stroke="#222" stroke-width="0.18">W50</text>
<line x1="136.20" y1="566.30" x2="136.20" y2="568.90" stroke="#222" stroke-width="0.7"/>
<text x="136.8" y="575.9" font-size="7.0" fill="#222" text-anchor="middle" stroke="#222" stroke-width="0.18">Z50</text>
<line x1="158.20" y1="566.30" x2="158.20" y2="568.90" stroke="#222" stroke-width="0.7"/>
<text x="157.6" y="575.9" font-size="7.0" fill="#222" text-anchor="middle" stroke="#222" stroke-width="0.18">W60</text>
<line x1="171.90" y1="566.30" x2="171.90" y2="568.90" stroke="#222" stroke-width="0.7"/>
<text x="172.5" y="575.9" font-size="7.0" fill="#222" text-anchor="middle" stroke="#222" stroke-width="0.18">Z60</text>
<text x="293.2" y="462.8" font-size="8.6" fill="#222" text-anchor="middle" font-style="italic" stroke="#222" stroke-width="0.18">SlZCIS</text>
<text x="200.8" y="520.5" font-size="7.4" fill="#222" stroke="#222" stroke-width="0.18" text-anchor="middle" transform="rotate(-90 200.8 520.5)">Relative expression of <tspan font-style="italic">SlZCIS</tspan></text>
<rect x="227.55" y="562.08" width="8.70" height="4.22" fill="#ffffff" stroke="#3a3a3a" stroke-width="0.7"/>
<rect x="241.35" y="559.97" width="8.70" height="6.33" fill="#ffffff" stroke="#3a3a3a" stroke-width="0.7"/>
<rect x="263.25" y="559.55" width="8.70" height="6.75" fill="#a8a8a8" stroke="#3a3a3a" stroke-width="0.7"/>
<rect x="276.95" y="564.61" width="8.70" height="1.69" fill="#a8a8a8" stroke="#3a3a3a" stroke-width="0.7"/>
<rect x="298.95" y="478.09" width="8.70" height="88.21" fill="#7f7f7f" stroke="#3a3a3a" stroke-width="0.7"/>
<rect x="312.65" y="531.27" width="8.70" height="35.03" fill="#7f7f7f" stroke="#3a3a3a" stroke-width="0.7"/>
<rect x="334.65" y="504.95" width="8.70" height="61.35" fill="#d6d6d6" stroke="#8a8a8a" stroke-width="0.7"/>
<rect x="348.35" y="515.20" width="8.70" height="51.10" fill="#d6d6d6" stroke="#8a8a8a" stroke-width="0.7"/>
<rect x="224.20" y="518.00" width="137.60" height="5.20" fill="#fff"/>
<line x1="231.90" y1="561.68" x2="231.90" y2="562.08" stroke="#333" stroke-width="0.7"/>
<line x1="229.70" y1="561.68" x2="234.10" y2="561.68" stroke="#333" stroke-width="0.7"/>
<text x="231.9" y="560.1" font-size="7.5" fill="#222" text-anchor="middle" stroke="#222" stroke-width="0.18">c</text>
<line x1="245.70" y1="559.17" x2="245.70" y2="559.97" stroke="#333" stroke-width="0.7"/>
<line x1="243.50" y1="559.17" x2="247.90" y2="559.17" stroke="#333" stroke-width="0.7"/>
<text x="245.70000000000002" y="557.6" font-size="7.5" fill="#222" text-anchor="middle" font-style="italic" stroke="#222" stroke-width="0.18">c</text>
<line x1="267.60" y1="559.05" x2="267.60" y2="559.55" stroke="#333" stroke-width="0.7"/>
<line x1="265.40" y1="559.05" x2="269.80" y2="559.05" stroke="#333" stroke-width="0.7"/>
<text x="267.6" y="557.4" font-size="7.5" fill="#222" text-anchor="middle" stroke="#222" stroke-width="0.18">c</text>
<line x1="281.30" y1="564.21" x2="281.30" y2="564.61" stroke="#333" stroke-width="0.7"/>
<line x1="279.10" y1="564.21" x2="283.50" y2="564.21" stroke="#333" stroke-width="0.7"/>
<text x="281.3" y="562.6" font-size="7.5" fill="#222" text-anchor="middle" font-style="italic" stroke="#222" stroke-width="0.18">c</text>
<text x="281.3" y="557.2" font-size="8" fill="#222" text-anchor="middle" font-weight="bold">***</text>
<line x1="303.30" y1="477.09" x2="303.30" y2="478.09" stroke="#333" stroke-width="0.7"/>
<line x1="301.10" y1="477.09" x2="305.50" y2="477.09" stroke="#333" stroke-width="0.7"/>
<text x="303.3" y="475.5" font-size="7.5" fill="#222" text-anchor="middle" stroke="#222" stroke-width="0.18">a</text>
<line x1="317.00" y1="530.57" x2="317.00" y2="531.27" stroke="#333" stroke-width="0.7"/>
<line x1="314.80" y1="530.57" x2="319.20" y2="530.57" stroke="#333" stroke-width="0.7"/>
<text x="317.0" y="529.0" font-size="7.5" fill="#222" text-anchor="middle" font-style="italic" stroke="#222" stroke-width="0.18">b</text>
<text x="317.0" y="523.6" font-size="8" fill="#222" text-anchor="middle" font-weight="bold">***</text>
<line x1="339.00" y1="503.45" x2="339.00" y2="504.95" stroke="#333" stroke-width="0.7"/>
<line x1="336.80" y1="503.45" x2="341.20" y2="503.45" stroke="#333" stroke-width="0.7"/>
<text x="339.0" y="501.8" font-size="7.5" fill="#222" text-anchor="middle" stroke="#222" stroke-width="0.18">b</text>
<line x1="352.70" y1="514.40" x2="352.70" y2="515.20" stroke="#333" stroke-width="0.7"/>
<line x1="350.50" y1="514.40" x2="354.90" y2="514.40" stroke="#333" stroke-width="0.7"/>
<text x="352.70000000000005" y="512.8" font-size="7.5" fill="#222" text-anchor="middle" font-style="italic" stroke="#222" stroke-width="0.18">a</text>
<text x="352.70000000000005" y="507.4" font-size="8" fill="#222" text-anchor="middle" font-weight="bold">***</text>
<line x1="223.20" y1="474.60" x2="223.20" y2="517.40" stroke="#222" stroke-width="0.9"/>
<line x1="223.20" y1="523.80" x2="223.20" y2="566.30" stroke="#222" stroke-width="0.9"/>
<line x1="221.00" y1="518.60" x2="225.40" y2="516.20" stroke="#222" stroke-width="0.8"/>
<line x1="221.00" y1="525.00" x2="225.40" y2="522.60" stroke="#222" stroke-width="0.8"/>
<line x1="222.75" y1="566.30" x2="361.80" y2="566.30" stroke="#222" stroke-width="0.9"/>
<line x1="220.20" y1="566.30" x2="223.20" y2="566.30" stroke="#222" stroke-width="0.8"/>
<text x="219.0" y="569.1" font-size="7.8" fill="#222" text-anchor="end" stroke="#222" stroke-width="0.18">0</text>
<line x1="220.20" y1="557.86" x2="223.20" y2="557.86" stroke="#222" stroke-width="0.8"/>
<text x="219.0" y="560.7" font-size="7.8" fill="#222" text-anchor="end" stroke="#222" stroke-width="0.18">2</text>
<line x1="220.20" y1="549.42" x2="223.20" y2="549.42" stroke="#222" stroke-width="0.8"/>
<text x="219.0" y="552.2" font-size="7.8" fill="#222" text-anchor="end" stroke="#222" stroke-width="0.18">4</text>
<line x1="220.20" y1="540.98" x2="223.20" y2="540.98" stroke="#222" stroke-width="0.8"/>
<text x="219.0" y="543.8" font-size="7.8" fill="#222" text-anchor="end" stroke="#222" stroke-width="0.18">6</text>
<line x1="220.20" y1="532.54" x2="223.20" y2="532.54" stroke="#222" stroke-width="0.8"/>
<text x="219.0" y="535.3" font-size="7.8" fill="#222" text-anchor="end" stroke="#222" stroke-width="0.18">8</text>
<line x1="220.20" y1="524.10" x2="223.20" y2="524.10" stroke="#222" stroke-width="0.8"/>
<text x="219.0" y="526.9" font-size="7.8" fill="#222" text-anchor="end" stroke="#222" stroke-width="0.18">10</text>
<line x1="220.20" y1="505.70" x2="223.20" y2="505.70" stroke="#222" stroke-width="0.8"/>
<text x="219.0" y="508.5" font-size="7.8" fill="#222" text-anchor="end" stroke="#222" stroke-width="0.18">100</text>
<line x1="220.20" y1="493.20" x2="223.20" y2="493.20" stroke="#222" stroke-width="0.8"/>
<text x="219.0" y="496.0" font-size="7.8" fill="#222" text-anchor="end" stroke="#222" stroke-width="0.18">200</text>
<line x1="220.20" y1="480.60" x2="223.20" y2="480.60" stroke="#222" stroke-width="0.8"/>
<text x="219.0" y="483.4" font-size="7.8" fill="#222" text-anchor="end" stroke="#222" stroke-width="0.18">300</text>
<line x1="231.90" y1="566.30" x2="231.90" y2="568.90" stroke="#222" stroke-width="0.7"/>
<text x="231.3" y="575.9" font-size="7.0" fill="#222" text-anchor="middle" stroke="#222" stroke-width="0.18">W30</text>
<line x1="245.70" y1="566.30" x2="245.70" y2="568.90" stroke="#222" stroke-width="0.7"/>
<text x="246.3" y="575.9" font-size="7.0" fill="#222" text-anchor="middle" stroke="#222" stroke-width="0.18">Z30</text>
<line x1="267.60" y1="566.30" x2="267.60" y2="568.90" stroke="#222" stroke-width="0.7"/>
<text x="267.0" y="575.9" font-size="7.0" fill="#222" text-anchor="middle" stroke="#222" stroke-width="0.18">W40</text>
<line x1="281.30" y1="566.30" x2="281.30" y2="568.90" stroke="#222" stroke-width="0.7"/>
<text x="281.9" y="575.9" font-size="7.0" fill="#222" text-anchor="middle" stroke="#222" stroke-width="0.18">Z40</text>
<line x1="303.30" y1="566.30" x2="303.30" y2="568.90" stroke="#222" stroke-width="0.7"/>
<text x="302.7" y="575.9" font-size="7.0" fill="#222" text-anchor="middle" stroke="#222" stroke-width="0.18">W50</text>
<line x1="317.00" y1="566.30" x2="317.00" y2="568.90" stroke="#222" stroke-width="0.7"/>
<text x="317.6" y="575.9" font-size="7.0" fill="#222" text-anchor="middle" stroke="#222" stroke-width="0.18">Z50</text>
<line x1="339.00" y1="566.30" x2="339.00" y2="568.90" stroke="#222" stroke-width="0.7"/>
<text x="338.4" y="575.9" font-size="7.0" fill="#222" text-anchor="middle" stroke="#222" stroke-width="0.18">W60</text>
<line x1="352.70" y1="566.30" x2="352.70" y2="568.90" stroke="#222" stroke-width="0.7"/>
<text x="353.3" y="575.9" font-size="7.0" fill="#222" text-anchor="middle" stroke="#222" stroke-width="0.18">Z60</text>
<text x="471.5" y="462.8" font-size="8.6" fill="#222" text-anchor="middle" font-style="italic" stroke="#222" stroke-width="0.18">SlPDS</text>
<text x="385.6" y="520.2" font-size="7.4" fill="#222" stroke="#222" stroke-width="0.18" text-anchor="middle" transform="rotate(-90 385.6 520.2)">Relative expression of <tspan font-style="italic">SlPDS</tspan></text>
<rect x="406.75" y="557.09" width="8.70" height="9.21" fill="#ffffff" stroke="#3a3a3a" stroke-width="0.7"/>
<rect x="420.55" y="559.39" width="8.70" height="6.91" fill="#ffffff" stroke="#3a3a3a" stroke-width="0.7"/>
<rect x="442.45" y="551.56" width="8.70" height="14.74" fill="#a8a8a8" stroke="#3a3a3a" stroke-width="0.7"/>
<rect x="456.15" y="554.33" width="8.70" height="11.97" fill="#a8a8a8" stroke="#3a3a3a" stroke-width="0.7"/>
<rect x="478.15" y="497.22" width="8.70" height="69.07" fill="#7f7f7f" stroke="#3a3a3a" stroke-width="0.7"/>
<rect x="491.85" y="541.43" width="8.70" height="24.87" fill="#7f7f7f" stroke="#3a3a3a" stroke-width="0.7"/>
<rect x="513.85" y="546.96" width="8.70" height="19.34" fill="#d6d6d6" stroke="#8a8a8a" stroke-width="0.7"/>
<rect x="527.55" y="558.47" width="8.70" height="7.83" fill="#d6d6d6" stroke="#8a8a8a" stroke-width="0.7"/>
<line x1="411.10" y1="556.09" x2="411.10" y2="557.09" stroke="#333" stroke-width="0.7"/>
<line x1="408.90" y1="556.09" x2="413.30" y2="556.09" stroke="#333" stroke-width="0.7"/>
<text x="411.1" y="554.5" font-size="7.5" fill="#222" text-anchor="middle" stroke="#222" stroke-width="0.18">c</text>
<line x1="424.90" y1="558.59" x2="424.90" y2="559.39" stroke="#333" stroke-width="0.7"/>
<line x1="422.70" y1="558.59" x2="427.10" y2="558.59" stroke="#333" stroke-width="0.7"/>
<text x="424.9" y="557.0" font-size="7.5" fill="#222" text-anchor="middle" font-style="italic" stroke="#222" stroke-width="0.18">c</text>
<line x1="446.80" y1="549.36" x2="446.80" y2="551.56" stroke="#333" stroke-width="0.7"/>
<line x1="444.60" y1="549.36" x2="449.00" y2="549.36" stroke="#333" stroke-width="0.7"/>
<text x="446.8" y="547.8" font-size="7.5" fill="#222" text-anchor="middle" stroke="#222" stroke-width="0.18">bc</text>
<line x1="460.50" y1="552.53" x2="460.50" y2="554.33" stroke="#333" stroke-width="0.7"/>
<line x1="458.30" y1="552.53" x2="462.70" y2="552.53" stroke="#333" stroke-width="0.7"/>
<text x="460.5" y="550.9" font-size="7.5" fill="#222" text-anchor="middle" font-style="italic" stroke="#222" stroke-width="0.18">b</text>
<line x1="482.50" y1="492.22" x2="482.50" y2="497.22" stroke="#333" stroke-width="0.7"/>
<line x1="480.30" y1="492.22" x2="484.70" y2="492.22" stroke="#333" stroke-width="0.7"/>
<text x="482.5" y="490.6" font-size="7.5" fill="#222" text-anchor="middle" stroke="#222" stroke-width="0.18">a</text>
<line x1="496.20" y1="539.43" x2="496.20" y2="541.43" stroke="#333" stroke-width="0.7"/>
<line x1="494.00" y1="539.43" x2="498.40" y2="539.43" stroke="#333" stroke-width="0.7"/>
<text x="496.2" y="537.8" font-size="7.5" fill="#222" text-anchor="middle" font-style="italic" stroke="#222" stroke-width="0.18">a</text>
<text x="496.2" y="532.4" font-size="8" fill="#222" text-anchor="middle" font-weight="bold">**</text>
<line x1="518.20" y1="544.46" x2="518.20" y2="546.96" stroke="#333" stroke-width="0.7"/>
<line x1="516.00" y1="544.46" x2="520.40" y2="544.46" stroke="#333" stroke-width="0.7"/>
<text x="518.2" y="542.9" font-size="7.5" fill="#222" text-anchor="middle" stroke="#222" stroke-width="0.18">b</text>
<line x1="531.90" y1="557.27" x2="531.90" y2="558.47" stroke="#333" stroke-width="0.7"/>
<line x1="529.70" y1="557.27" x2="534.10" y2="557.27" stroke="#333" stroke-width="0.7"/>
<text x="531.9" y="555.7" font-size="7.5" fill="#222" text-anchor="middle" font-style="italic" stroke="#222" stroke-width="0.18">c</text>
<text x="531.9" y="550.3" font-size="8" fill="#222" text-anchor="middle" font-weight="bold">*</text>
<line x1="402.30" y1="474.20" x2="402.30" y2="566.30" stroke="#222" stroke-width="0.9"/>
<line x1="401.85" y1="566.30" x2="541.00" y2="566.30" stroke="#222" stroke-width="0.9"/>
<line x1="399.30" y1="566.30" x2="402.30" y2="566.30" stroke="#222" stroke-width="0.8"/>
<text x="398.1" y="569.1" font-size="7.8" fill="#222" text-anchor="end" stroke="#222" stroke-width="0.18">0</text>
<line x1="399.30" y1="547.88" x2="402.30" y2="547.88" stroke="#222" stroke-width="0.8"/>
<text x="398.1" y="550.7" font-size="7.8" fill="#222" text-anchor="end" stroke="#222" stroke-width="0.18">2</text>
<line x1="399.30" y1="529.46" x2="402.30" y2="529.46" stroke="#222" stroke-width="0.8"/>
<text x="398.1" y="532.3" font-size="7.8" fill="#222" text-anchor="end" stroke="#222" stroke-width="0.18">4</text>
<line x1="399.30" y1="511.04" x2="402.30" y2="511.04" stroke="#222" stroke-width="0.8"/>
<text x="398.1" y="513.8" font-size="7.8" fill="#222" text-anchor="end" stroke="#222" stroke-width="0.18">6</text>
<line x1="399.30" y1="492.62" x2="402.30" y2="492.62" stroke="#222" stroke-width="0.8"/>
<text x="398.1" y="495.4" font-size="7.8" fill="#222" text-anchor="end" stroke="#222" stroke-width="0.18">8</text>
<line x1="399.30" y1="474.20" x2="402.30" y2="474.20" stroke="#222" stroke-width="0.8"/>
<text x="398.1" y="477.0" font-size="7.8" fill="#222" text-anchor="end" stroke="#222" stroke-width="0.18">10</text>
<line x1="411.10" y1="566.30" x2="411.10" y2="568.90" stroke="#222" stroke-width="0.7"/>
<text x="410.5" y="575.9" font-size="7.0" fill="#222" text-anchor="middle" stroke="#222" stroke-width="0.18">W30</text>
<line x1="424.90" y1="566.30" x2="424.90" y2="568.90" stroke="#222" stroke-width="0.7"/>
<text x="425.5" y="575.9" font-size="7.0" fill="#222" text-anchor="middle" stroke="#222" stroke-width="0.18">Z30</text>
<line x1="446.80" y1="566.30" x2="446.80" y2="568.90" stroke="#222" stroke-width="0.7"/>
<text x="446.2" y="575.9" font-size="7.0" fill="#222" text-anchor="middle" stroke="#222" stroke-width="0.18">W40</text>
<line x1="460.50" y1="566.30" x2="460.50" y2="568.90" stroke="#222" stroke-width="0.7"/>
<text x="461.1" y="575.9" font-size="7.0" fill="#222" text-anchor="middle" stroke="#222" stroke-width="0.18">Z40</text>
<line x1="482.50" y1="566.30" x2="482.50" y2="568.90" stroke="#222" stroke-width="0.7"/>
<text x="481.9" y="575.9" font-size="7.0" fill="#222" text-anchor="middle" stroke="#222" stroke-width="0.18">W50</text>
<line x1="496.20" y1="566.30" x2="496.20" y2="568.90" stroke="#222" stroke-width="0.7"/>
<text x="496.8" y="575.9" font-size="7.0" fill="#222" text-anchor="middle" stroke="#222" stroke-width="0.18">Z50</text>
<line x1="518.20" y1="566.30" x2="518.20" y2="568.90" stroke="#222" stroke-width="0.7"/>
<text x="517.6" y="575.9" font-size="7.0" fill="#222" text-anchor="middle" stroke="#222" stroke-width="0.18">W60</text>
<line x1="531.90" y1="566.30" x2="531.90" y2="568.90" stroke="#222" stroke-width="0.7"/>
<text x="532.5" y="575.9" font-size="7.0" fill="#222" text-anchor="middle" stroke="#222" stroke-width="0.18">Z60</text>
<text x="108.8" y="604" font-size="8.6" fill="#222" text-anchor="middle" font-style="italic" stroke="#222" stroke-width="0.18">SlZDS</text>
<text x="23.3" y="660.0" font-size="7.4" fill="#222" stroke="#222" stroke-width="0.18" text-anchor="middle" transform="rotate(-90 23.3 660.0)">Relative expression of <tspan font-style="italic">SlZDS</tspan></text>
<rect x="44.35" y="696.97" width="8.70" height="9.23" fill="#ffffff" stroke="#3a3a3a" stroke-width="0.7"/>
<rect x="58.15" y="697.89" width="8.70" height="8.31" fill="#ffffff" stroke="#3a3a3a" stroke-width="0.7"/>
<rect x="80.05" y="690.97" width="8.70" height="15.23" fill="#a8a8a8" stroke="#3a3a3a" stroke-width="0.7"/>
<rect x="93.75" y="696.97" width="8.70" height="9.23" fill="#a8a8a8" stroke="#3a3a3a" stroke-width="0.7"/>
<rect x="115.75" y="636.98" width="8.70" height="69.23" fill="#7f7f7f" stroke="#3a3a3a" stroke-width="0.7"/>
<rect x="129.45" y="687.74" width="8.70" height="18.46" fill="#7f7f7f" stroke="#3a3a3a" stroke-width="0.7"/>
<rect x="151.45" y="690.51" width="8.70" height="15.69" fill="#d6d6d6" stroke="#8a8a8a" stroke-width="0.7"/>
<rect x="165.15" y="700.66" width="8.70" height="5.54" fill="#d6d6d6" stroke="#8a8a8a" stroke-width="0.7"/>
<line x1="48.70" y1="696.47" x2="48.70" y2="696.97" stroke="#333" stroke-width="0.7"/>
<line x1="46.50" y1="696.47" x2="50.90" y2="696.47" stroke="#333" stroke-width="0.7"/>
<text x="48.7" y="694.9" font-size="7.5" fill="#222" text-anchor="middle" stroke="#222" stroke-width="0.18">b</text>
<line x1="62.50" y1="697.29" x2="62.50" y2="697.89" stroke="#333" stroke-width="0.7"/>
<line x1="60.30" y1="697.29" x2="64.70" y2="697.29" stroke="#333" stroke-width="0.7"/>
<text x="62.50000000000001" y="695.7" font-size="7.5" fill="#222" text-anchor="middle" font-style="italic" stroke="#222" stroke-width="0.18">b</text>
<line x1="84.40" y1="688.47" x2="84.40" y2="690.97" stroke="#333" stroke-width="0.7"/>
<line x1="82.20" y1="688.47" x2="86.60" y2="688.47" stroke="#333" stroke-width="0.7"/>
<text x="84.39999999999999" y="686.9" font-size="7.5" fill="#222" text-anchor="middle" stroke="#222" stroke-width="0.18">b</text>
<line x1="98.10" y1="696.17" x2="98.10" y2="696.97" stroke="#333" stroke-width="0.7"/>
<line x1="95.90" y1="696.17" x2="100.30" y2="696.17" stroke="#333" stroke-width="0.7"/>
<text x="98.1" y="694.6" font-size="7.5" fill="#222" text-anchor="middle" font-style="italic" stroke="#222" stroke-width="0.18">b</text>
<line x1="120.10" y1="631.98" x2="120.10" y2="636.98" stroke="#333" stroke-width="0.7"/>
<line x1="117.90" y1="631.98" x2="122.30" y2="631.98" stroke="#333" stroke-width="0.7"/>
<text x="120.1" y="630.4" font-size="7.5" fill="#222" text-anchor="middle" stroke="#222" stroke-width="0.18">a</text>
<line x1="133.80" y1="686.74" x2="133.80" y2="687.74" stroke="#333" stroke-width="0.7"/>
<line x1="131.60" y1="686.74" x2="136.00" y2="686.74" stroke="#333" stroke-width="0.7"/>
<text x="133.79999999999998" y="685.1" font-size="7.5" fill="#222" text-anchor="middle" font-style="italic" stroke="#222" stroke-width="0.18">a</text>
<text x="133.79999999999998" y="679.7" font-size="8" fill="#222" text-anchor="middle" font-weight="bold">**</text>
<line x1="155.80" y1="688.01" x2="155.80" y2="690.51" stroke="#333" stroke-width="0.7"/>
<line x1="153.60" y1="688.01" x2="158.00" y2="688.01" stroke="#333" stroke-width="0.7"/>
<text x="155.79999999999998" y="686.4" font-size="7.5" fill="#222" text-anchor="middle" stroke="#222" stroke-width="0.18">b</text>
<line x1="169.50" y1="700.06" x2="169.50" y2="700.66" stroke="#333" stroke-width="0.7"/>
<line x1="167.30" y1="700.06" x2="171.70" y2="700.06" stroke="#333" stroke-width="0.7"/>
<text x="169.5" y="698.5" font-size="7.5" fill="#222" text-anchor="middle" font-style="italic" stroke="#222" stroke-width="0.18">c</text>
<text x="169.5" y="693.1" font-size="8" fill="#222" text-anchor="middle" font-weight="bold">*</text>
<line x1="39.90" y1="613.90" x2="39.90" y2="706.20" stroke="#222" stroke-width="0.9"/>
<line x1="39.45" y1="706.20" x2="178.60" y2="706.20" stroke="#222" stroke-width="0.9"/>
<line x1="36.90" y1="706.20" x2="39.90" y2="706.20" stroke="#222" stroke-width="0.8"/>
<text x="35.699999999999996" y="709.0" font-size="7.8" fill="#222" text-anchor="end" stroke="#222" stroke-width="0.18">0</text>
<line x1="36.90" y1="687.74" x2="39.90" y2="687.74" stroke="#222" stroke-width="0.8"/>
<text x="35.699999999999996" y="690.5" font-size="7.8" fill="#222" text-anchor="end" stroke="#222" stroke-width="0.18">2</text>
<line x1="36.90" y1="669.28" x2="39.90" y2="669.28" stroke="#222" stroke-width="0.8"/>
<text x="35.699999999999996" y="672.1" font-size="7.8" fill="#222" text-anchor="end" stroke="#222" stroke-width="0.18">4</text>
<line x1="36.90" y1="650.82" x2="39.90" y2="650.82" stroke="#222" stroke-width="0.8"/>
<text x="35.699999999999996" y="653.6" font-size="7.8" fill="#222" text-anchor="end" stroke="#222" stroke-width="0.18">6</text>
<line x1="36.90" y1="632.36" x2="39.90" y2="632.36" stroke="#222" stroke-width="0.8"/>
<text x="35.699999999999996" y="635.2" font-size="7.8" fill="#222" text-anchor="end" stroke="#222" stroke-width="0.18">8</text>
<line x1="36.90" y1="613.90" x2="39.90" y2="613.90" stroke="#222" stroke-width="0.8"/>
<text x="35.699999999999996" y="616.7" font-size="7.8" fill="#222" text-anchor="end" stroke="#222" stroke-width="0.18">10</text>
<line x1="48.70" y1="706.20" x2="48.70" y2="708.80" stroke="#222" stroke-width="0.7"/>
<text x="48.1" y="715.9" font-size="7.0" fill="#222" text-anchor="middle" stroke="#222" stroke-width="0.18">W30</text>
<line x1="62.50" y1="706.20" x2="62.50" y2="708.80" stroke="#222" stroke-width="0.7"/>
<text x="63.1" y="715.9" font-size="7.0" fill="#222" text-anchor="middle" stroke="#222" stroke-width="0.18">Z30</text>
<line x1="84.40" y1="706.20" x2="84.40" y2="708.80" stroke="#222" stroke-width="0.7"/>
<text x="83.8" y="715.9" font-size="7.0" fill="#222" text-anchor="middle" stroke="#222" stroke-width="0.18">W40</text>
<line x1="98.10" y1="706.20" x2="98.10" y2="708.80" stroke="#222" stroke-width="0.7"/>
<text x="98.7" y="715.9" font-size="7.0" fill="#222" text-anchor="middle" stroke="#222" stroke-width="0.18">Z40</text>
<line x1="120.10" y1="706.20" x2="120.10" y2="708.80" stroke="#222" stroke-width="0.7"/>
<text x="119.5" y="715.9" font-size="7.0" fill="#222" text-anchor="middle" stroke="#222" stroke-width="0.18">W50</text>
<line x1="133.80" y1="706.20" x2="133.80" y2="708.80" stroke="#222" stroke-width="0.7"/>
<text x="134.4" y="715.9" font-size="7.0" fill="#222" text-anchor="middle" stroke="#222" stroke-width="0.18">Z50</text>
<line x1="155.80" y1="706.20" x2="155.80" y2="708.80" stroke="#222" stroke-width="0.7"/>
<text x="155.2" y="715.9" font-size="7.0" fill="#222" text-anchor="middle" stroke="#222" stroke-width="0.18">W60</text>
<line x1="169.50" y1="706.20" x2="169.50" y2="708.80" stroke="#222" stroke-width="0.7"/>
<text x="170.1" y="715.9" font-size="7.0" fill="#222" text-anchor="middle" stroke="#222" stroke-width="0.18">Z60</text>
<text x="290" y="604" font-size="8.6" fill="#222" text-anchor="middle" font-style="italic" stroke="#222" stroke-width="0.18">SlCRTSO2</text>
<text x="203.4" y="660.0" font-size="7.4" fill="#222" stroke="#222" stroke-width="0.18" text-anchor="middle" transform="rotate(-90 203.4 660.0)">Relative expression of <tspan font-style="italic">SlCRTSO2</tspan></text>
<rect x="225.35" y="698.51" width="8.70" height="7.69" fill="#ffffff" stroke="#3a3a3a" stroke-width="0.7"/>
<rect x="239.15" y="701.20" width="8.70" height="5.00" fill="#ffffff" stroke="#3a3a3a" stroke-width="0.7"/>
<rect x="261.05" y="698.12" width="8.70" height="8.08" fill="#a8a8a8" stroke="#3a3a3a" stroke-width="0.7"/>
<rect x="274.75" y="702.35" width="8.70" height="3.85" fill="#a8a8a8" stroke="#3a3a3a" stroke-width="0.7"/>
<rect x="296.75" y="619.28" width="8.70" height="86.92" fill="#7f7f7f" stroke="#3a3a3a" stroke-width="0.7"/>
<rect x="310.45" y="676.97" width="8.70" height="29.23" fill="#7f7f7f" stroke="#3a3a3a" stroke-width="0.7"/>
<rect x="332.45" y="686.20" width="8.70" height="20.00" fill="#d6d6d6" stroke="#8a8a8a" stroke-width="0.7"/>
<rect x="346.15" y="688.89" width="8.70" height="17.31" fill="#d6d6d6" stroke="#8a8a8a" stroke-width="0.7"/>
<line x1="229.70" y1="698.11" x2="229.70" y2="698.51" stroke="#333" stroke-width="0.7"/>
<line x1="227.50" y1="698.11" x2="231.90" y2="698.11" stroke="#333" stroke-width="0.7"/>
<text x="229.7" y="696.5" font-size="7.5" fill="#222" text-anchor="middle" stroke="#222" stroke-width="0.18">c</text>
<line x1="243.50" y1="700.70" x2="243.50" y2="701.20" stroke="#333" stroke-width="0.7"/>
<line x1="241.30" y1="700.70" x2="245.70" y2="700.70" stroke="#333" stroke-width="0.7"/>
<text x="243.5" y="699.1" font-size="7.5" fill="#222" text-anchor="middle" font-style="italic" stroke="#222" stroke-width="0.18">c</text>
<text x="243.5" y="693.7" font-size="8" fill="#222" text-anchor="middle" font-weight="bold">*</text>
<line x1="265.40" y1="697.62" x2="265.40" y2="698.12" stroke="#333" stroke-width="0.7"/>
<line x1="263.20" y1="697.62" x2="267.60" y2="697.62" stroke="#333" stroke-width="0.7"/>
<text x="265.4" y="696.0" font-size="7.5" fill="#222" text-anchor="middle" stroke="#222" stroke-width="0.18">c</text>
<line x1="279.10" y1="701.85" x2="279.10" y2="702.35" stroke="#333" stroke-width="0.7"/>
<line x1="276.90" y1="701.85" x2="281.30" y2="701.85" stroke="#333" stroke-width="0.7"/>
<text x="279.1" y="700.3" font-size="7.5" fill="#222" text-anchor="middle" font-style="italic" stroke="#222" stroke-width="0.18">c</text>
<text x="279.1" y="694.9" font-size="8" fill="#222" text-anchor="middle" font-weight="bold">**</text>
<line x1="301.10" y1="616.28" x2="301.10" y2="619.28" stroke="#333" stroke-width="0.7"/>
<line x1="298.90" y1="616.28" x2="303.30" y2="616.28" stroke="#333" stroke-width="0.7"/>
<text x="301.1" y="614.7" font-size="7.5" fill="#222" text-anchor="middle" stroke="#222" stroke-width="0.18">a</text>
<line x1="314.80" y1="671.97" x2="314.80" y2="676.97" stroke="#333" stroke-width="0.7"/>
<line x1="312.60" y1="671.97" x2="317.00" y2="671.97" stroke="#333" stroke-width="0.7"/>
<text x="314.79999999999995" y="670.4" font-size="7.5" fill="#222" text-anchor="middle" font-style="italic" stroke="#222" stroke-width="0.18">a</text>
<text x="314.79999999999995" y="665.0" font-size="8" fill="#222" text-anchor="middle" font-weight="bold">**</text>
<line x1="336.80" y1="683.70" x2="336.80" y2="686.20" stroke="#333" stroke-width="0.7"/>
<line x1="334.60" y1="683.70" x2="339.00" y2="683.70" stroke="#333" stroke-width="0.7"/>
<text x="336.79999999999995" y="682.1" font-size="7.5" fill="#222" text-anchor="middle" stroke="#222" stroke-width="0.18">b</text>
<line x1="350.50" y1="687.69" x2="350.50" y2="688.89" stroke="#333" stroke-width="0.7"/>
<line x1="348.30" y1="687.69" x2="352.70" y2="687.69" stroke="#333" stroke-width="0.7"/>
<text x="350.5" y="686.1" font-size="7.5" fill="#222" text-anchor="middle" font-style="italic" stroke="#222" stroke-width="0.18">b</text>
<line x1="220.40" y1="613.90" x2="220.40" y2="706.20" stroke="#222" stroke-width="0.9"/>
<line x1="219.95" y1="706.20" x2="359.60" y2="706.20" stroke="#222" stroke-width="0.9"/>
<line x1="217.40" y1="706.20" x2="220.40" y2="706.20" stroke="#222" stroke-width="0.8"/>
<text x="216.20000000000002" y="709.0" font-size="7.8" fill="#222" text-anchor="end" stroke="#222" stroke-width="0.18">0</text>
<line x1="217.40" y1="690.82" x2="220.40" y2="690.82" stroke="#222" stroke-width="0.8"/>
<text x="216.20000000000002" y="693.6" font-size="7.8" fill="#222" text-anchor="end" stroke="#222" stroke-width="0.18">2</text>
<line x1="217.40" y1="675.43" x2="220.40" y2="675.43" stroke="#222" stroke-width="0.8"/>
<text x="216.20000000000002" y="678.2" font-size="7.8" fill="#222" text-anchor="end" stroke="#222" stroke-width="0.18">4</text>
<line x1="217.40" y1="660.05" x2="220.40" y2="660.05" stroke="#222" stroke-width="0.8"/>
<text x="216.20000000000002" y="662.8" font-size="7.8" fill="#222" text-anchor="end" stroke="#222" stroke-width="0.18">6</text>
<line x1="217.40" y1="644.67" x2="220.40" y2="644.67" stroke="#222" stroke-width="0.8"/>
<text x="216.20000000000002" y="647.5" font-size="7.8" fill="#222" text-anchor="end" stroke="#222" stroke-width="0.18">8</text>
<line x1="217.40" y1="629.28" x2="220.40" y2="629.28" stroke="#222" stroke-width="0.8"/>
<text x="216.20000000000002" y="632.1" font-size="7.8" fill="#222" text-anchor="end" stroke="#222" stroke-width="0.18">10</text>
<line x1="217.40" y1="613.90" x2="220.40" y2="613.90" stroke="#222" stroke-width="0.8"/>
<text x="216.20000000000002" y="616.7" font-size="7.8" fill="#222" text-anchor="end" stroke="#222" stroke-width="0.18">12</text>
<line x1="229.70" y1="706.20" x2="229.70" y2="708.80" stroke="#222" stroke-width="0.7"/>
<text x="229.1" y="715.9" font-size="7.0" fill="#222" text-anchor="middle" stroke="#222" stroke-width="0.18">W30</text>
<line x1="243.50" y1="706.20" x2="243.50" y2="708.80" stroke="#222" stroke-width="0.7"/>
<text x="244.1" y="715.9" font-size="7.0" fill="#222" text-anchor="middle" stroke="#222" stroke-width="0.18">Z30</text>
<line x1="265.40" y1="706.20" x2="265.40" y2="708.80" stroke="#222" stroke-width="0.7"/>
<text x="264.8" y="715.9" font-size="7.0" fill="#222" text-anchor="middle" stroke="#222" stroke-width="0.18">W40</text>
<line x1="279.10" y1="706.20" x2="279.10" y2="708.80" stroke="#222" stroke-width="0.7"/>
<text x="279.7" y="715.9" font-size="7.0" fill="#222" text-anchor="middle" stroke="#222" stroke-width="0.18">Z40</text>
<line x1="301.10" y1="706.20" x2="301.10" y2="708.80" stroke="#222" stroke-width="0.7"/>
<text x="300.5" y="715.9" font-size="7.0" fill="#222" text-anchor="middle" stroke="#222" stroke-width="0.18">W50</text>
<line x1="314.80" y1="706.20" x2="314.80" y2="708.80" stroke="#222" stroke-width="0.7"/>
<text x="315.4" y="715.9" font-size="7.0" fill="#222" text-anchor="middle" stroke="#222" stroke-width="0.18">Z50</text>
<line x1="336.80" y1="706.20" x2="336.80" y2="708.80" stroke="#222" stroke-width="0.7"/>
<text x="336.2" y="715.9" font-size="7.0" fill="#222" text-anchor="middle" stroke="#222" stroke-width="0.18">W60</text>
<line x1="350.50" y1="706.20" x2="350.50" y2="708.80" stroke="#222" stroke-width="0.7"/>
<text x="351.1" y="715.9" font-size="7.0" fill="#222" text-anchor="middle" stroke="#222" stroke-width="0.18">Z60</text>
<text x="470.5" y="604" font-size="8.6" fill="#222" text-anchor="middle" font-style="italic" stroke="#222" stroke-width="0.18">SlLCYB2</text>
<text x="384.9" y="660.0" font-size="7.4" fill="#222" stroke="#222" stroke-width="0.18" text-anchor="middle" transform="rotate(-90 384.9 660.0)">Relative expression of <tspan font-style="italic">SlLCYB2</tspan></text>
<rect x="406.75" y="629.28" width="8.70" height="76.92" fill="#ffffff" stroke="#3a3a3a" stroke-width="0.7"/>
<rect x="420.55" y="673.28" width="8.70" height="32.92" fill="#ffffff" stroke="#3a3a3a" stroke-width="0.7"/>
<rect x="442.45" y="662.51" width="8.70" height="43.69" fill="#a8a8a8" stroke="#3a3a3a" stroke-width="0.7"/>
<rect x="456.15" y="670.82" width="8.70" height="35.38" fill="#a8a8a8" stroke="#3a3a3a" stroke-width="0.7"/>
<rect x="478.15" y="703.43" width="8.70" height="2.77" fill="#7f7f7f" stroke="#3a3a3a" stroke-width="0.7"/>
<rect x="491.85" y="684.36" width="8.70" height="21.84" fill="#7f7f7f" stroke="#3a3a3a" stroke-width="0.7"/>
<rect x="513.85" y="704.97" width="8.70" height="1.23" fill="#d6d6d6" stroke="#8a8a8a" stroke-width="0.7"/>
<rect x="527.55" y="703.43" width="8.70" height="2.77" fill="#d6d6d6" stroke="#8a8a8a" stroke-width="0.7"/>
<line x1="411.10" y1="627.78" x2="411.10" y2="629.28" stroke="#333" stroke-width="0.7"/>
<line x1="408.90" y1="627.78" x2="413.30" y2="627.78" stroke="#333" stroke-width="0.7"/>
<text x="411.1" y="626.2" font-size="7.5" fill="#222" text-anchor="middle" stroke="#222" stroke-width="0.18">a</text>
<line x1="424.90" y1="671.28" x2="424.90" y2="673.28" stroke="#333" stroke-width="0.7"/>
<line x1="422.70" y1="671.28" x2="427.10" y2="671.28" stroke="#333" stroke-width="0.7"/>
<text x="424.9" y="669.7" font-size="7.5" fill="#222" text-anchor="middle" font-style="italic" stroke="#222" stroke-width="0.18">a</text>
<text x="424.9" y="664.3" font-size="8" fill="#222" text-anchor="middle" font-weight="bold">**</text>
<line x1="446.80" y1="660.01" x2="446.80" y2="662.51" stroke="#333" stroke-width="0.7"/>
<line x1="444.60" y1="660.01" x2="449.00" y2="660.01" stroke="#333" stroke-width="0.7"/>
<text x="446.8" y="658.4" font-size="7.5" fill="#222" text-anchor="middle" stroke="#222" stroke-width="0.18">b</text>
<line x1="460.50" y1="667.32" x2="460.50" y2="670.82" stroke="#333" stroke-width="0.7"/>
<line x1="458.30" y1="667.32" x2="462.70" y2="667.32" stroke="#333" stroke-width="0.7"/>
<text x="460.5" y="665.7" font-size="7.5" fill="#222" text-anchor="middle" font-style="italic" stroke="#222" stroke-width="0.18">a</text>
<line x1="482.50" y1="702.93" x2="482.50" y2="703.43" stroke="#333" stroke-width="0.7"/>
<line x1="480.30" y1="702.93" x2="484.70" y2="702.93" stroke="#333" stroke-width="0.7"/>
<text x="482.5" y="701.3" font-size="7.5" fill="#222" text-anchor="middle" stroke="#222" stroke-width="0.18">c</text>
<line x1="496.20" y1="682.36" x2="496.20" y2="684.36" stroke="#333" stroke-width="0.7"/>
<line x1="494.00" y1="682.36" x2="498.40" y2="682.36" stroke="#333" stroke-width="0.7"/>
<text x="496.2" y="680.8" font-size="7.5" fill="#222" text-anchor="middle" font-style="italic" stroke="#222" stroke-width="0.18">b</text>
<text x="496.2" y="675.4" font-size="8" fill="#222" text-anchor="middle" font-weight="bold">**</text>
<line x1="518.20" y1="704.37" x2="518.20" y2="704.97" stroke="#333" stroke-width="0.7"/>
<line x1="516.00" y1="704.37" x2="520.40" y2="704.37" stroke="#333" stroke-width="0.7"/>
<text x="518.2" y="702.8" font-size="7.5" fill="#222" text-anchor="middle" stroke="#222" stroke-width="0.18">c</text>
<line x1="531.90" y1="702.83" x2="531.90" y2="703.43" stroke="#333" stroke-width="0.7"/>
<line x1="529.70" y1="702.83" x2="534.10" y2="702.83" stroke="#333" stroke-width="0.7"/>
<text x="531.9" y="701.2" font-size="7.5" fill="#222" text-anchor="middle" font-style="italic" stroke="#222" stroke-width="0.18">c</text>
<text x="531.9" y="695.8" font-size="8" fill="#222" text-anchor="middle" font-weight="bold">****</text>
<line x1="402.40" y1="613.90" x2="402.40" y2="706.20" stroke="#222" stroke-width="0.9"/>
<line x1="401.95" y1="706.20" x2="541.00" y2="706.20" stroke="#222" stroke-width="0.9"/>
<line x1="399.40" y1="706.20" x2="402.40" y2="706.20" stroke="#222" stroke-width="0.8"/>
<text x="398.2" y="709.0" font-size="7.8" fill="#222" text-anchor="end" stroke="#222" stroke-width="0.18">0</text>
<line x1="399.40" y1="690.82" x2="402.40" y2="690.82" stroke="#222" stroke-width="0.8"/>
<text x="398.2" y="693.6" font-size="7.8" fill="#222" text-anchor="end" stroke="#222" stroke-width="0.18">5</text>
<line x1="399.40" y1="675.43" x2="402.40" y2="675.43" stroke="#222" stroke-width="0.8"/>
<text x="398.2" y="678.2" font-size="7.8" fill="#222" text-anchor="end" stroke="#222" stroke-width="0.18">10</text>
<line x1="399.40" y1="660.05" x2="402.40" y2="660.05" stroke="#222" stroke-width="0.8"/>
<text x="398.2" y="662.8" font-size="7.8" fill="#222" text-anchor="end" stroke="#222" stroke-width="0.18">15</text>
<line x1="399.40" y1="644.67" x2="402.40" y2="644.67" stroke="#222" stroke-width="0.8"/>
<text x="398.2" y="647.5" font-size="7.8" fill="#222" text-anchor="end" stroke="#222" stroke-width="0.18">20</text>
<line x1="399.40" y1="629.28" x2="402.40" y2="629.28" stroke="#222" stroke-width="0.8"/>
<text x="398.2" y="632.1" font-size="7.8" fill="#222" text-anchor="end" stroke="#222" stroke-width="0.18">25</text>
<line x1="399.40" y1="613.90" x2="402.40" y2="613.90" stroke="#222" stroke-width="0.8"/>
<text x="398.2" y="616.7" font-size="7.8" fill="#222" text-anchor="end" stroke="#222" stroke-width="0.18">30</text>
<line x1="411.10" y1="706.20" x2="411.10" y2="708.80" stroke="#222" stroke-width="0.7"/>
<text x="410.5" y="715.9" font-size="7.0" fill="#222" text-anchor="middle" stroke="#222" stroke-width="0.18">W30</text>
<line x1="424.90" y1="706.20" x2="424.90" y2="708.80" stroke="#222" stroke-width="0.7"/>
<text x="425.5" y="715.9" font-size="7.0" fill="#222" text-anchor="middle" stroke="#222" stroke-width="0.18">Z30</text>
<line x1="446.80" y1="706.20" x2="446.80" y2="708.80" stroke="#222" stroke-width="0.7"/>
<text x="446.2" y="715.9" font-size="7.0" fill="#222" text-anchor="middle" stroke="#222" stroke-width="0.18">W40</text>
<line x1="460.50" y1="706.20" x2="460.50" y2="708.80" stroke="#222" stroke-width="0.7"/>
<text x="461.1" y="715.9" font-size="7.0" fill="#222" text-anchor="middle" stroke="#222" stroke-width="0.18">Z40</text>
<line x1="482.50" y1="706.20" x2="482.50" y2="708.80" stroke="#222" stroke-width="0.7"/>
<text x="481.9" y="715.9" font-size="7.0" fill="#222" text-anchor="middle" stroke="#222" stroke-width="0.18">W50</text>
<line x1="496.20" y1="706.20" x2="496.20" y2="708.80" stroke="#222" stroke-width="0.7"/>
<text x="496.8" y="715.9" font-size="7.0" fill="#222" text-anchor="middle" stroke="#222" stroke-width="0.18">Z50</text>
<line x1="518.20" y1="706.20" x2="518.20" y2="708.80" stroke="#222" stroke-width="0.7"/>
<text x="517.6" y="715.9" font-size="7.0" fill="#222" text-anchor="middle" stroke="#222" stroke-width="0.18">W60</text>
<line x1="531.90" y1="706.20" x2="531.90" y2="708.80" stroke="#222" stroke-width="0.7"/>
<text x="532.5" y="715.9" font-size="7.0" fill="#222" text-anchor="middle" stroke="#222" stroke-width="0.18">Z60</text>
</svg>
</body></html>
